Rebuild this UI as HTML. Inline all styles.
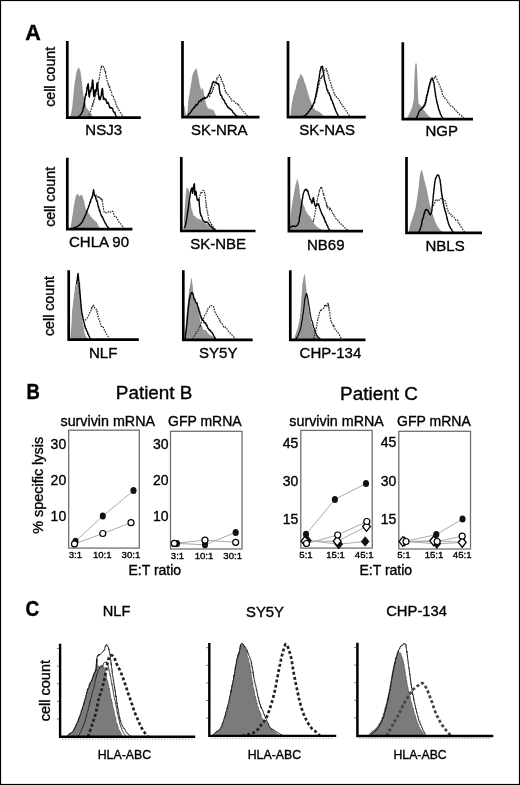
<!DOCTYPE html>
<html><head><meta charset="utf-8"><title>Figure</title>
<style>html,body{margin:0;padding:0;background:#fff;width:520px;height:785px;overflow:hidden}svg{display:block}text{font-family:"Liberation Sans",Arial,sans-serif}</style>
</head><body>
<svg width="520" height="785" viewBox="0 0 520 785" font-family="'Liberation Sans', Arial, sans-serif" fill="#000"><rect x="0.5" y="0.5" width="519" height="784" fill="#fff" stroke="#000" stroke-width="1.2"/><text x="25.2" y="40.4" font-size="21.5" text-anchor="start" font-weight="bold" stroke="#000" stroke-width="0.35">A</text><text x="0" y="0" font-size="14.2" text-anchor="middle" stroke="#000" stroke-width="0.35" transform="translate(55.0 76.8) rotate(-90)">cell count</text><text x="0" y="0" font-size="14.2" text-anchor="middle" stroke="#000" stroke-width="0.35" transform="translate(54.6 196.9) rotate(-90)">cell count</text><text x="0" y="0" font-size="14.2" text-anchor="middle" stroke="#000" stroke-width="0.35" transform="translate(54.4 306.0) rotate(-90)">cell count</text><path d="M70.0 117.0L70.1 116.6L70.3 116.0L70.5 115.3L70.7 114.4L70.9 113.9L71.2 113.1L71.4 112.0L71.6 110.6L71.8 110.0L71.9 109.0L72.0 108.1L72.1 108.5L72.2 107.9L72.3 105.3L72.4 106.0L72.5 104.7L72.6 103.4L72.6 102.3L72.7 102.2L72.8 100.8L72.9 100.4L73.0 99.6L73.1 97.7L73.1 98.2L73.2 97.8L73.3 96.9L73.4 95.4L73.5 93.4L73.5 92.5L73.6 91.9L73.7 92.7L73.8 90.6L73.9 89.9L73.9 90.2L74.0 88.3L74.1 88.1L74.2 86.9L74.3 85.3L74.4 85.5L74.5 85.3L74.6 83.2L74.7 82.6L74.8 82.2L74.9 80.7L75.1 80.9L75.2 80.6L75.3 79.5L75.5 78.4L75.6 78.2L75.8 75.8L75.9 75.7L76.1 74.4L76.2 73.9L76.4 72.0L76.5 72.5L76.7 70.4L76.9 69.9L77.0 70.6L77.6 69.4L78.1 67.8L78.7 67.8L79.0 67.8L79.4 68.5L79.8 70.1L80.1 70.2L80.4 71.2L80.5 72.5L80.7 72.6L80.8 74.3L80.9 75.5L81.0 76.2L81.2 76.4L81.3 77.0L81.4 78.1L81.5 78.1L81.6 80.4L81.7 80.4L81.8 81.2L81.9 81.6L82.0 83.2L82.1 84.3L82.2 84.8L82.2 86.6L82.3 87.1L82.4 87.1L82.5 88.5L82.6 90.1L82.7 90.0L82.8 91.1L82.9 90.9L83.1 92.6L83.2 93.4L83.3 94.1L83.4 94.9L83.5 96.0L83.7 96.6L83.8 97.3L83.9 97.3L84.1 98.9L84.2 100.9L84.3 100.6L84.5 100.7L84.6 101.5L84.8 103.3L85.0 103.1L85.3 104.1L85.7 105.0L86.0 106.5L86.4 108.2L86.8 108.0L87.3 108.8L87.9 109.5L88.4 110.3L89.0 110.9L89.6 112.0L90.2 112.8L90.8 113.4L91.4 114.0L91.9 115.0L92.4 116.0L92.8 116.6L93.1 117.3L93.1 117.7L70.0 117.7Z" fill="#969696" stroke="none"/><path d="M88.5 117.3L88.7 116.7L88.9 116.0L89.2 115.2L89.5 113.9L89.9 112.7L90.2 111.9L90.4 111.1L90.7 110.9L90.9 110.0L91.2 109.1L91.4 108.3L91.7 107.6L92.0 106.0L92.2 105.7L92.5 104.4L92.8 105.0L93.0 102.7L93.3 103.4L93.5 101.3L93.8 101.7L94.0 100.3L94.3 99.6L94.5 99.5L94.8 97.1L95.0 96.5L95.2 97.2L95.4 95.7L95.6 94.1L95.8 94.8L96.0 93.9L96.2 91.5L96.4 91.2L96.6 89.8L96.8 89.2L97.0 89.0L97.2 87.4L97.4 87.5L97.6 85.5L97.8 84.9L97.9 85.3L98.1 83.8L98.3 83.1L98.4 82.7L98.6 81.7L98.7 80.7L98.9 79.2L99.0 79.6L99.2 79.2L99.3 78.4L99.5 76.9L99.6 75.4L99.8 74.5L99.9 74.2L100.1 73.3L100.2 71.4L100.3 70.9L100.5 70.4L100.6 70.0L100.9 69.3L101.2 67.7L101.4 66.1L101.7 67.0L102.0 65.9L102.7 66.0L103.5 66.5L103.8 67.4L104.0 68.1L104.3 69.6L104.6 69.2L104.9 71.0L105.2 71.4L105.4 73.0L105.6 72.6L105.7 73.9L105.9 74.8L106.1 76.2L106.3 76.1L106.5 77.7L106.6 78.0L106.8 78.9L107.0 80.0L107.3 81.8L107.6 81.9L107.9 83.5L108.1 82.8L108.4 85.0L108.7 84.8L109.0 85.3L109.3 87.1L109.5 88.2L109.8 87.4L110.1 88.7L110.4 90.5L110.7 90.5L111.0 91.2L111.3 91.6L111.6 92.5L111.9 94.4L112.2 95.9L112.6 96.7L112.9 96.6L113.3 96.6L113.7 97.9L114.1 99.6L114.5 100.6L114.8 101.0L115.1 101.0L115.4 102.3L115.7 103.0L115.9 104.1L116.2 104.2L116.5 106.1L116.8 106.7L117.3 106.4L117.7 107.4L118.2 109.0L118.6 109.0L119.1 110.5L119.6 110.8L120.0 111.8L120.5 112.6L120.9 113.1L121.4 113.9L121.9 114.6L122.4 115.6L122.9 116.3L123.4 116.8L123.7 117.3" fill="none" stroke="#2a2a2a" stroke-width="1.2" stroke-dasharray="1.6 1.1"/><path d="M77.5 117.3L78.1 116.9L78.9 116.3L79.8 115.8L80.3 114.9L80.8 114.4L81.3 113.8L81.8 112.4L82.2 112.0L82.5 111.6L82.8 111.2L83.0 108.6L83.3 108.2L83.5 106.5L83.7 108.0L83.9 106.8L84.1 103.3L84.2 106.2L84.4 105.2L84.5 103.1L84.6 102.0L84.7 99.3L84.9 97.8L85.0 99.1L85.2 96.3L85.4 96.1L85.6 95.5L85.8 93.9L86.0 94.8L86.2 93.8L86.3 94.7L86.4 92.6L86.5 92.2L86.7 90.7L86.8 90.4L86.9 88.7L87.0 87.1L87.1 89.2L87.2 88.5L87.3 87.4L87.8 84.9L88.2 83.8L88.3 83.9L88.3 84.7L88.4 84.7L88.5 88.4L88.5 87.9L88.6 90.7L88.7 89.9L88.7 93.2L88.8 93.8L88.9 91.3L89.0 92.8L89.0 96.2L89.1 94.9L89.4 97.0L89.8 93.2L90.2 90.3L90.5 91.8L90.7 91.7L91.0 88.9L91.3 87.3L91.6 87.3L91.8 89.0L91.9 87.1L92.1 83.3L92.2 82.6L92.4 81.0L92.5 80.0L92.7 82.6L92.8 80.2L92.9 82.1L92.9 82.1L93.0 81.8L93.0 84.8L93.1 83.3L93.2 86.4L93.2 85.4L93.3 87.7L93.3 88.0L93.4 89.3L93.4 93.2L93.5 93.5L93.5 92.4L93.6 95.5L93.6 93.4L93.7 94.6L94.0 96.6L94.4 94.1L94.8 90.4L95.3 93.4L95.7 89.8L96.2 89.0L96.4 90.3L96.6 87.4L96.7 86.0L96.9 83.9L97.1 83.0L97.2 84.3L97.4 83.0L97.5 84.7L97.6 84.3L97.7 85.4L97.7 88.2L97.8 87.3L97.9 88.7L98.0 90.9L98.1 89.3L98.2 90.3L98.2 94.3L98.3 94.8L98.4 93.4L98.5 93.8L98.8 97.4L99.1 99.1L99.4 96.6L99.7 99.8L100.2 99.4L100.7 97.6L101.2 95.7L101.4 93.7L101.5 92.4L101.6 94.8L101.8 90.7L101.9 91.4L102.0 88.7L102.2 90.4L102.3 89.4L102.4 88.4L102.5 88.5L102.6 91.4L102.7 89.7L102.8 91.3L102.9 93.7L103.0 96.0L103.1 96.2L103.2 95.9L103.3 99.3L103.4 97.2L103.5 97.1L104.3 99.0L105.2 99.8L105.6 98.9L106.1 100.1L106.5 101.7L107.0 103.3L107.8 102.2L108.6 103.7L109.3 106.6L109.8 107.6L110.2 107.1L110.6 108.0L111.0 108.3L111.6 107.7L112.1 108.1L112.7 108.8L113.3 111.6L113.9 111.7L114.5 112.9L114.9 112.2L115.2 114.2L115.6 115.0L116.2 116.0L116.8 116.7L117.3 117.3" fill="none" stroke="#000" stroke-width="1.4" stroke-linejoin="round"/><path d="M67.3 41.0V117.7H140.8" fill="none" stroke="#000" stroke-width="2.7"/><text x="103.7" y="134.9" font-size="15.0" text-anchor="middle" stroke="#000" stroke-width="0.35">NSJ3</text><path d="M182.5 116.7L182.5 116.3L182.5 115.6L182.6 114.9L182.6 114.1L182.6 112.7L182.6 112.0L182.7 111.3L182.7 110.3L182.8 109.0L182.8 107.5L182.9 107.0L182.9 107.4L183.0 105.3L183.7 104.5L184.4 106.6L184.6 106.3L184.7 106.7L184.9 107.9L185.0 109.7L185.2 110.0L185.3 111.1L185.5 112.1L185.8 113.5L186.1 114.7L186.4 115.9L186.7 116.5L187.0 115.9L187.1 115.5L187.1 115.1L187.2 114.7L187.3 113.9L187.3 113.4L187.4 112.3L187.5 111.4L187.5 110.4L187.6 110.2L187.7 109.5L187.7 107.6L187.8 106.6L187.9 105.2L187.9 105.4L188.0 103.8L188.1 102.5L188.2 102.7L188.2 101.7L188.3 100.6L188.4 99.3L188.5 99.4L188.6 98.3L188.8 97.2L188.9 95.8L189.0 96.6L189.2 95.6L189.3 94.5L189.4 94.4L189.6 92.8L189.7 91.5L189.9 90.3L190.0 90.6L190.1 89.6L190.3 88.7L190.4 89.0L190.5 87.9L190.7 85.6L190.8 86.3L190.9 83.6L191.1 84.0L191.2 82.5L191.3 82.5L191.5 82.0L191.6 80.4L191.7 80.0L191.9 77.8L192.0 78.3L192.1 76.5L192.3 76.5L192.4 75.7L192.7 73.9L193.1 74.2L193.5 72.0L193.8 71.7L194.2 70.7L194.5 71.3L195.2 69.6L195.9 68.4L196.5 68.6L196.7 69.3L196.9 70.4L197.1 70.2L197.2 71.0L197.4 73.2L197.6 74.0L197.8 74.3L197.9 75.3L198.1 75.7L198.3 76.9L198.4 78.0L198.6 78.5L198.8 79.4L199.0 80.4L199.2 81.5L199.3 82.9L199.5 84.3L199.7 84.6L199.8 84.9L200.1 85.2L200.3 86.7L200.5 88.5L200.8 88.8L201.0 90.3L201.2 90.8L201.8 88.6L202.5 87.7L202.7 88.0L203.0 89.4L203.2 89.1L203.4 90.5L203.7 92.7L203.9 92.7L204.1 94.7L204.2 94.4L204.4 96.2L204.5 96.3L204.7 96.5L204.8 98.4L205.0 98.5L205.2 100.8L205.4 101.2L205.6 101.7L205.8 103.4L206.0 103.5L206.2 105.2L206.4 105.5L206.7 105.2L206.9 106.1L207.2 107.6L207.8 107.3L208.5 109.1L209.2 108.0L210.0 109.3L210.8 109.4L211.7 109.3L212.6 109.7L213.3 110.1L213.8 110.5L214.2 111.2L214.6 112.0L214.9 113.3L215.3 114.2L215.8 114.8L216.4 115.7L216.9 116.2L217.3 116.7L217.3 117.1L182.5 117.1Z" fill="#969696" stroke="none"/><path d="M209.3 96.0L209.6 96.4L210.0 94.4L210.5 93.6L211.0 94.6L211.5 92.3L212.0 91.3L212.3 91.6L212.6 90.4L212.9 90.6L213.2 88.6L213.4 89.1L213.7 87.1L214.0 86.8L214.3 86.6L214.6 85.3L214.9 85.0L215.2 83.7L215.5 81.7L215.8 82.4L216.1 81.0L216.4 79.7L216.7 78.7L217.0 79.2L217.3 78.1L217.9 77.6L218.4 76.2L218.9 75.9L219.4 75.1L219.7 75.7L220.1 76.3L220.4 76.6L220.7 78.9L221.1 78.8L221.4 80.5L221.8 81.6L222.2 81.8L222.6 81.6L223.0 83.6L223.4 84.3L223.6 84.1L223.8 84.6L224.1 86.3L224.3 86.3L224.5 88.8L224.7 88.9L225.0 89.7L225.2 90.2L225.4 91.3L225.9 92.8L226.4 92.4L226.9 93.1L227.4 94.1L227.9 94.4L228.5 95.7L229.0 96.3L229.5 96.9L230.0 98.1L230.5 98.7L231.0 98.6L231.5 100.9L232.5 100.3L233.5 100.9L234.1 101.3L234.8 102.7L235.6 103.3L236.2 103.0L236.9 103.5L237.6 103.5L238.2 105.7L238.7 105.1L239.2 106.5L239.7 107.0L240.2 107.8L240.7 108.4L241.2 108.8L241.8 109.3L242.3 110.4L242.9 111.3L243.4 111.7L244.0 112.0L244.5 112.9L245.1 113.2L245.6 114.0L246.3 114.9L247.1 115.6L247.8 116.2L248.3 116.7" fill="none" stroke="#2a2a2a" stroke-width="1.2" stroke-dasharray="1.6 1.1"/><path d="M186.4 116.7L186.8 116.2L187.4 115.7L188.2 114.9L189.0 114.0L189.4 113.3L189.9 113.1L190.4 112.5L191.0 111.7L191.5 111.0L192.0 110.0L192.6 109.1L193.1 108.8L193.6 108.5L194.1 107.1L194.6 107.5L195.2 106.0L195.7 105.3L196.2 104.4L196.7 105.5L197.2 104.4L197.8 104.0L198.4 102.9L199.0 101.3L199.5 101.2L200.1 101.0L200.7 99.8L201.2 100.8L202.1 99.1L203.0 98.2L203.8 99.0L204.6 97.3L205.5 98.5L206.4 97.4L207.2 97.1L207.7 96.1L208.1 95.7L208.5 94.3L208.9 93.1L209.3 93.7L209.6 91.8L209.9 91.9L210.2 90.0L210.4 90.5L210.7 89.4L211.0 88.3L211.3 87.5L211.6 86.2L212.0 85.5L212.3 83.4L212.6 83.2L213.0 83.1L213.3 81.5L214.3 82.3L215.3 82.7L216.0 82.4L216.7 83.2L217.3 83.9L218.0 83.4L218.7 84.9L218.8 84.3L218.9 84.3L219.0 85.2L219.2 87.2L219.3 88.7L219.4 88.7L219.5 89.7L219.6 90.8L219.7 92.0L219.9 91.8L220.0 93.2L220.4 94.2L220.7 95.2L221.2 95.1L221.6 95.7L222.0 96.7L222.4 98.6L222.8 98.4L223.2 99.6L223.6 99.9L224.0 100.3L224.5 101.0L225.1 103.1L225.6 103.8L226.1 103.8L226.6 105.1L227.1 105.9L227.6 107.0L228.1 107.7L228.7 107.4L229.4 108.6L230.1 109.0L230.8 109.1L231.2 110.0L231.7 110.2L232.2 110.9L232.6 111.5L233.1 112.7L233.5 112.8L234.2 113.5L234.8 114.5L235.5 115.1L236.2 115.5L237.2 116.1L238.2 116.4L238.9 116.7" fill="none" stroke="#000" stroke-width="1.4" stroke-linejoin="round"/><path d="M182.5 41.0V117.1H259.5" fill="none" stroke="#000" stroke-width="2.7"/><text x="219.3" y="134.6" font-size="15.0" text-anchor="middle" stroke="#000" stroke-width="0.35">SK-NRA</text><path d="M290.4 116.7L290.4 116.2L290.5 115.6L290.6 114.7L290.6 114.2L290.7 113.1L290.8 112.2L290.9 111.3L291.0 110.6L291.1 110.1L291.2 108.4L291.3 108.3L291.4 107.4L291.5 105.1L291.6 103.9L291.7 103.3L291.9 103.7L292.0 102.3L292.2 102.1L292.4 101.3L292.6 99.9L292.8 98.8L292.9 97.1L293.1 96.3L293.3 97.1L293.5 96.1L293.7 95.5L293.9 94.3L294.1 93.7L294.4 92.8L294.6 92.6L294.8 90.3L295.0 90.3L295.2 89.2L295.5 89.5L295.7 88.8L295.9 86.7L296.1 85.6L296.3 85.0L296.5 84.3L296.8 84.4L297.0 82.8L297.2 82.6L297.4 81.0L297.6 80.7L297.8 79.4L298.2 79.2L298.6 78.0L299.1 78.0L299.4 77.5L299.8 76.0L300.4 73.6L301.1 74.9L301.5 75.3L301.9 75.0L302.3 75.9L302.8 77.8L303.2 77.5L303.5 78.3L303.8 80.0L304.1 80.8L304.3 81.7L304.6 82.9L304.9 83.2L305.2 83.8L305.5 84.3L305.8 85.1L306.1 86.3L306.3 87.2L306.6 88.7L306.9 89.3L307.2 90.0L307.4 90.5L307.6 91.8L307.9 92.1L308.1 93.7L308.3 94.2L308.5 95.1L308.8 95.2L309.0 96.3L309.2 97.4L309.5 98.8L309.8 98.9L310.1 99.3L310.3 100.9L310.6 100.6L310.9 101.9L311.2 102.1L311.5 104.0L311.8 104.4L312.2 105.5L312.5 107.1L312.8 107.6L313.2 107.3L313.8 108.6L314.5 108.5L315.2 110.0L315.9 110.0L316.7 110.9L317.6 110.8L318.5 111.8L319.3 111.7L320.0 112.8L320.7 112.9L321.3 113.2L322.0 114.2L322.7 114.8L323.5 115.4L324.2 116.2L324.7 116.7L324.7 117.2L290.4 117.2Z" fill="#969696" stroke="none"/><path d="M313.9 104.0L314.0 102.8L314.2 102.4L314.4 101.8L314.7 102.1L314.9 100.5L315.2 100.0L315.5 97.9L315.8 97.7L316.0 97.4L316.3 95.9L316.5 95.8L316.7 94.9L316.9 93.1L317.1 91.6L317.3 92.1L317.4 90.1L317.6 89.1L317.8 89.5L318.0 88.9L318.1 88.1L318.3 87.6L318.5 85.5L318.7 84.4L319.0 83.6L319.2 84.2L319.4 81.8L319.6 81.1L319.9 80.1L320.1 79.4L320.3 78.8L320.5 78.7L320.9 77.4L321.2 77.0L321.6 77.5L322.0 75.4L322.4 75.8L322.8 74.9L323.2 73.7L323.6 72.9L324.0 72.5L324.5 71.2L325.0 69.6L325.5 69.0L326.0 68.5L326.4 69.1L326.7 70.9L327.1 70.8L327.4 71.2L327.6 72.7L327.8 74.1L328.0 74.3L328.3 75.6L328.5 75.4L328.7 76.2L328.9 78.1L329.1 77.9L329.4 79.1L329.6 80.1L329.8 80.6L330.1 81.2L330.4 81.9L330.7 84.4L331.1 84.8L331.4 86.1L331.8 86.1L332.1 87.8L332.4 88.5L332.7 88.9L333.0 89.7L333.2 90.6L333.5 91.0L333.8 92.1L334.1 93.4L334.6 93.4L335.1 95.3L335.6 95.3L336.1 96.2L336.6 97.3L337.1 97.8L337.6 97.6L338.1 98.5L338.6 98.9L339.2 99.6L339.7 102.1L340.2 102.2L340.7 103.6L341.2 104.0L341.7 103.9L342.2 105.8L342.7 106.5L343.2 106.4L343.7 106.6L344.2 107.7L344.7 108.3L345.2 109.3L345.7 109.8L346.2 111.2L346.7 112.1L347.2 112.3L347.7 113.4L348.2 114.0L348.8 114.8L349.4 115.6L349.9 116.2L350.3 116.7" fill="none" stroke="#2a2a2a" stroke-width="1.2" stroke-dasharray="1.6 1.1"/><path d="M301.8 116.7L302.4 116.5L303.1 116.2L304.1 115.9L305.0 115.6L305.8 114.9L306.4 114.3L307.0 113.7L307.6 113.3L308.1 112.2L308.7 111.9L309.2 111.2L309.7 110.0L310.2 109.7L310.6 108.9L311.1 108.2L311.5 108.4L311.9 106.4L312.3 105.5L312.8 106.4L313.1 104.7L313.5 103.5L313.9 102.7L314.1 102.1L314.3 102.5L314.5 100.5L314.7 99.7L314.9 99.6L315.1 98.7L315.3 98.6L315.5 97.5L315.7 95.7L315.9 94.5L316.1 94.9L316.2 94.4L316.4 91.8L316.5 92.3L316.7 91.7L316.9 90.5L317.0 88.8L317.2 89.0L317.4 88.0L317.5 86.1L317.7 86.0L317.8 84.4L318.0 83.2L318.1 82.9L318.3 82.1L318.4 81.4L318.6 81.0L318.7 80.4L318.8 79.8L319.0 78.9L319.1 78.1L319.3 76.9L319.4 75.2L319.5 74.1L319.6 74.2L319.8 73.3L319.9 72.9L320.0 71.3L320.3 70.2L320.5 70.4L320.7 69.0L320.9 68.5L321.1 66.8L321.3 66.8L321.8 66.6L322.3 66.3L322.4 67.4L322.6 66.6L322.7 67.9L322.8 69.5L323.0 69.8L323.1 71.5L323.3 72.1L323.4 72.0L323.5 72.7L323.7 75.1L323.8 74.4L323.9 75.3L324.1 76.4L324.2 77.9L324.4 79.0L324.5 79.1L324.7 80.0L324.9 81.3L325.1 81.2L325.3 82.3L325.5 83.5L325.7 84.4L325.9 84.2L326.1 85.1L326.3 85.9L326.5 87.7L326.7 88.3L327.0 89.9L327.4 90.4L327.7 90.2L328.0 91.9L328.4 93.1L328.7 92.7L329.0 93.0L329.4 94.4L329.7 95.1L330.0 95.8L330.4 96.3L330.7 97.3L331.0 99.5L331.4 98.9L331.8 100.7L332.1 100.8L332.5 101.6L332.8 103.6L333.1 103.5L333.5 104.1L333.8 105.4L334.1 106.7L334.5 107.2L334.8 108.5L335.1 108.7L335.5 109.7L335.8 110.8L336.1 111.4L336.5 112.4L336.8 113.0L337.2 113.7L337.7 114.6L338.1 115.6L338.5 116.3L338.8 116.7" fill="none" stroke="#000" stroke-width="1.4" stroke-linejoin="round"/><path d="M288.0 41.0V117.2H365.8" fill="none" stroke="#000" stroke-width="2.7"/><text x="327.1" y="134.6" font-size="15.0" text-anchor="middle" stroke="#000" stroke-width="0.35">SK-NAS</text><path d="M406.4 119.2L406.6 118.7L407.0 118.2L407.4 117.2L407.8 116.5L408.2 116.0L408.7 114.9L409.1 113.7L409.4 113.2L409.8 113.0L410.2 111.8L410.5 110.5L410.9 111.0L411.2 109.1L411.5 109.1L411.8 108.2L412.0 107.2L412.2 107.5L412.4 105.2L412.6 105.3L412.8 103.6L413.0 104.5L413.2 102.0L413.3 101.9L413.5 101.6L413.6 100.8L413.7 98.5L413.7 99.4L413.8 98.6L413.8 96.7L413.9 96.8L413.9 95.0L413.9 94.0L413.9 93.2L414.0 92.7L414.0 92.9L414.0 91.3L414.0 91.5L414.0 90.5L414.1 88.3L414.1 87.9L414.1 86.3L414.2 86.6L414.2 85.8L414.2 84.9L414.3 83.1L414.3 83.2L414.3 81.4L414.3 82.0L414.4 80.4L414.4 78.8L414.4 79.8L414.5 78.9L414.5 76.9L414.5 77.3L414.6 75.3L414.6 75.1L414.7 74.2L414.7 73.6L414.8 71.2L414.8 70.3L414.9 69.6L414.9 69.3L415.0 69.3L415.0 68.4L415.1 66.5L415.1 67.1L415.2 65.4L415.4 63.6L415.6 63.4L415.8 63.6L416.0 63.3L416.2 62.6L416.4 64.1L416.6 64.0L416.8 65.3L416.9 67.5L416.9 67.6L417.0 67.3L417.0 68.4L417.0 70.0L417.1 69.4L417.1 70.6L417.2 72.7L417.2 72.5L417.3 73.8L417.3 74.9L417.3 75.7L417.4 76.1L417.4 76.7L417.4 78.6L417.5 79.3L417.5 80.5L417.5 79.5L417.6 80.6L417.6 82.9L417.6 82.6L417.6 84.5L417.7 84.3L417.7 85.4L417.7 86.7L417.8 87.1L417.8 88.1L417.8 87.9L417.9 90.4L417.9 90.8L417.9 91.0L418.0 92.3L418.0 93.5L418.0 95.0L418.1 94.0L418.1 96.7L418.1 96.8L418.2 96.5L418.2 97.9L418.2 99.3L418.3 98.7L418.3 100.2L418.4 101.5L418.5 102.4L418.6 102.0L418.7 102.5L418.9 104.9L419.3 104.1L419.9 104.8L420.5 106.1L421.1 105.6L421.8 107.6L422.5 108.5L422.9 108.3L423.3 109.4L423.8 109.9L424.3 110.9L424.7 110.9L425.2 111.4L425.7 112.2L426.2 113.6L426.7 114.2L427.3 114.1L427.9 115.2L428.4 115.4L429.1 116.3L429.8 116.9L430.5 117.6L431.1 118.3L431.6 118.8L432.0 119.2L432.0 119.2L406.4 119.2Z" fill="#969696" stroke="none"/><path d="M422.5 108.0L422.8 107.8L423.2 106.0L423.7 105.7L424.2 104.6L424.6 104.4L424.8 103.7L425.0 103.4L425.2 101.2L425.4 100.9L425.6 99.4L425.8 98.9L426.0 98.5L426.2 96.8L426.4 96.3L426.6 96.3L426.8 95.3L427.0 93.9L427.2 93.8L427.4 93.4L427.6 91.1L427.8 91.8L428.0 90.8L428.2 89.3L428.4 88.2L428.6 88.8L428.8 86.9L429.0 85.6L429.3 84.7L429.5 85.1L429.7 83.7L430.0 83.2L430.2 82.3L430.4 81.2L430.7 81.4L430.9 79.8L431.7 79.3L432.5 79.7L433.3 79.2L434.0 78.8L434.6 77.4L435.3 77.4L435.7 76.6L436.1 77.7L436.5 78.7L436.9 79.3L437.3 80.5L437.7 81.1L438.1 82.2L438.6 83.6L439.0 83.9L439.4 84.8L439.7 85.2L440.1 86.1L440.4 88.2L440.7 88.5L441.1 89.3L441.4 89.4L441.7 91.2L442.0 91.1L442.3 92.4L442.5 94.5L442.8 94.7L443.1 95.4L443.4 96.3L443.9 97.6L444.4 98.2L444.9 97.9L445.4 98.2L446.1 99.4L446.7 99.9L447.4 100.5L447.9 102.5L448.4 103.2L449.0 103.0L449.5 104.3L450.2 104.6L450.8 106.1L451.5 105.9L452.1 106.2L452.8 106.8L453.5 108.1L454.0 108.2L454.5 109.3L455.1 110.3L455.6 110.3L456.2 110.7L456.7 112.2L457.3 112.3L457.8 112.5L458.4 113.1L458.9 113.7L459.6 114.6L460.2 115.2L460.9 115.4L461.6 115.8L462.3 116.6L463.0 117.5L463.8 118.1L464.4 118.8L464.9 119.2" fill="none" stroke="#2a2a2a" stroke-width="1.2" stroke-dasharray="1.6 1.1"/><path d="M415.8 119.2L416.1 118.6L416.5 117.8L416.9 116.8L417.4 116.2L417.8 115.0L418.1 114.3L418.4 113.3L418.8 112.2L419.1 111.7L419.4 110.8L419.8 110.4L420.4 109.6L421.1 109.5L421.8 108.5L422.5 107.4L423.0 106.9L423.4 107.4L423.9 105.8L424.4 106.1L424.8 105.2L425.2 103.2L425.4 103.9L425.6 101.8L425.8 102.6L426.0 101.7L426.2 99.7L426.3 99.8L426.5 98.9L426.7 96.9L426.8 97.0L427.0 95.2L427.2 95.7L427.4 94.5L427.6 94.2L427.8 91.7L428.0 91.3L428.2 91.0L428.4 90.1L428.6 88.5L428.8 88.9L428.9 88.1L429.1 86.3L429.3 85.4L429.6 85.3L429.8 83.8L430.0 83.3L430.3 82.1L430.5 81.1L430.7 79.8L430.9 79.3L431.6 78.3L432.2 78.4L432.5 78.2L432.8 79.4L433.0 79.9L433.3 81.5L433.6 82.3L433.7 82.3L433.9 82.7L434.0 83.3L434.1 84.0L434.3 86.3L434.4 87.2L434.5 87.9L434.6 87.6L434.8 89.4L434.9 89.3L435.0 91.5L435.1 91.9L435.3 92.9L435.4 93.5L435.5 94.0L435.6 95.6L435.8 96.7L435.9 96.2L436.0 97.4L436.2 98.7L436.3 99.3L436.5 99.7L436.7 100.6L436.8 102.3L437.0 101.8L437.2 102.5L437.4 104.1L437.6 104.1L437.8 105.9L438.0 105.7L438.2 107.6L438.4 107.4L438.6 109.1L438.9 109.6L439.1 110.4L439.3 110.5L439.5 111.3L439.8 111.9L440.0 112.7L440.4 114.2L440.8 114.6L441.2 115.5L441.6 116.4L442.0 116.9L442.8 117.9L443.6 118.7L444.1 119.2" fill="none" stroke="#000" stroke-width="1.4" stroke-linejoin="round"/><path d="M402.8 42.3V119.2H473.0" fill="none" stroke="#000" stroke-width="2.7"/><text x="441.8" y="135.9" font-size="15.0" text-anchor="middle" stroke="#000" stroke-width="0.35">NGP</text><path d="M70.3 229.2L70.4 228.7L70.5 228.0L70.6 227.4L70.8 226.4L70.9 225.6L71.1 225.0L71.2 223.4L71.4 222.6L71.5 222.2L71.6 220.6L71.8 219.7L71.9 219.9L72.0 219.3L72.1 217.3L72.3 216.1L72.4 216.8L72.5 214.7L72.6 214.3L72.8 213.4L72.9 212.6L73.0 212.3L73.1 211.5L73.2 210.1L73.4 209.5L73.5 208.6L73.6 207.4L73.8 206.0L73.9 204.7L74.1 203.9L74.2 204.4L74.4 203.1L74.5 201.2L74.7 201.9L74.9 199.8L75.1 199.8L75.3 198.6L75.5 197.5L75.8 196.3L76.1 196.0L76.5 194.8L77.2 194.2L78.0 193.9L78.5 194.8L79.0 196.0L79.5 196.3L80.0 196.6L80.5 195.0L81.1 195.2L81.8 195.0L82.1 195.6L82.4 195.0L82.7 197.0L83.0 198.0L83.2 197.9L83.5 199.3L83.7 200.5L84.0 200.4L84.3 201.3L84.5 203.4L84.7 203.8L84.9 205.9L85.1 206.5L85.2 207.3L85.4 208.0L85.5 207.6L85.7 209.3L86.1 208.9L86.5 209.6L87.0 210.8L87.5 211.2L88.0 211.5L88.5 213.3L89.0 214.9L89.5 213.8L90.0 214.8L90.5 216.7L91.0 216.6L91.5 217.1L92.0 217.6L92.5 219.0L93.0 218.9L93.7 219.6L94.4 220.2L95.0 221.4L95.9 220.9L96.7 222.2L97.0 223.0L97.4 223.2L97.8 224.3L98.1 225.2L98.5 226.1L99.1 226.9L99.7 227.8L100.2 228.6L100.6 229.2L100.6 229.1L70.3 229.1Z" fill="#969696" stroke="none"/><path d="M94.5 195.0L95.2 196.3L96.0 195.2L96.5 197.0L97.0 197.0L97.7 197.2L98.5 195.8L99.1 197.2L99.8 196.6L100.4 198.9L100.9 198.4L101.4 198.5L101.8 199.7L102.0 200.9L102.2 200.6L102.3 202.1L102.5 202.3L102.6 203.4L102.8 204.4L103.0 205.4L103.1 206.4L103.3 208.2L103.5 208.4L103.6 210.0L103.8 210.7L104.2 212.0L104.7 212.8L105.4 212.5L106.2 212.8L107.1 213.0L108.1 212.1L109.0 211.4L110.0 212.0L111.0 211.7L111.9 210.9L112.7 211.3L113.4 212.4L113.7 214.3L114.0 215.7L114.3 216.3L115.0 216.4L115.8 216.2L116.3 216.7L116.7 218.5L117.2 219.0L117.6 219.7L118.0 220.1L118.3 220.9L118.7 221.7L119.4 222.2L120.1 223.1L120.6 223.4L121.0 224.3L121.5 225.0L122.0 225.7L122.5 226.4L123.0 227.1L123.5 227.7L124.0 228.7L124.4 229.2" fill="none" stroke="#2a2a2a" stroke-width="1.2" stroke-dasharray="1.6 1.1"/><path d="M71.0 229.2L71.6 229.0L72.4 228.6L73.3 228.2L74.2 227.9L75.0 227.4L75.8 227.1L76.6 226.9L77.3 226.3L78.0 226.2L78.7 225.7L79.4 225.1L80.0 224.6L80.5 224.0L81.0 223.3L81.5 223.2L82.0 221.9L82.4 221.9L82.8 221.1L83.3 219.2L83.7 218.8L84.0 218.5L84.4 218.2L84.6 216.4L85.0 216.2L85.3 215.1L85.6 215.1L85.9 214.5L86.3 213.3L86.7 211.4L87.0 211.5L87.3 210.1L87.6 209.9L87.9 208.4L88.1 208.3L88.4 207.5L88.7 206.4L89.0 205.6L89.3 204.7L89.7 203.4L90.0 201.8L90.4 202.4L90.7 200.7L91.0 199.1L91.3 199.0L91.7 198.2L92.0 197.0L92.3 197.6L92.5 195.3L92.7 195.9L92.8 194.4L93.0 192.9L93.1 192.4L93.2 191.9L93.5 189.8L93.8 190.5L93.9 190.7L94.0 192.1L94.1 192.8L94.2 193.7L94.4 194.9L94.6 195.5L94.9 195.6L95.2 196.1L95.6 197.0L95.8 198.3L96.1 199.2L96.4 199.9L96.6 200.8L96.9 200.3L97.2 201.9L97.5 202.3L97.7 203.9L97.9 204.7L98.1 205.4L98.3 206.8L98.6 206.5L98.8 208.2L99.0 208.7L99.2 208.8L99.4 210.9L99.7 210.2L100.0 211.8L100.3 212.8L100.7 213.7L101.0 215.1L101.3 215.1L101.7 216.6L102.1 216.3L102.5 217.4L102.9 217.6L103.3 219.2L103.7 219.7L104.1 221.0L104.4 221.0L104.8 222.2L105.2 223.4L105.7 223.4L106.2 224.7L106.6 225.4L107.1 226.1L107.8 227.0L108.4 227.8L109.0 228.5L109.6 229.0L110.0 229.2" fill="none" stroke="#000" stroke-width="1.4" stroke-linejoin="round"/><path d="M67.3 157.8V229.1H132.4" fill="none" stroke="#000" stroke-width="2.7"/><text x="99.0" y="246.9" font-size="15.0" text-anchor="middle" stroke="#000" stroke-width="0.35">CHLA 90</text><path d="M182.5 230.8L182.9 230.8L183.4 229.0L183.5 228.4L183.5 228.1L183.6 227.3L183.6 226.4L183.7 226.2L183.7 225.3L183.8 224.6L183.8 223.5L183.9 221.9L183.9 221.3L184.0 220.1L184.0 220.1L184.1 217.6L184.1 218.3L184.2 216.1L184.2 215.5L184.3 215.3L184.4 214.5L184.4 213.4L184.5 212.6L184.5 211.8L184.6 211.0L184.6 209.1L184.7 208.6L184.7 207.2L184.8 207.4L184.9 206.0L184.9 205.0L185.0 204.2L185.0 204.7L185.1 202.3L185.1 203.0L185.2 202.3L185.2 200.1L185.3 200.7L185.4 198.4L185.5 198.2L185.6 196.2L185.6 195.7L185.7 195.1L185.8 194.0L185.9 194.0L186.0 192.9L186.1 190.9L186.1 191.3L186.2 189.7L186.3 189.3L186.6 188.2L186.9 187.4L187.2 187.6L187.9 188.6L188.7 189.6L188.8 189.7L189.0 191.0L189.1 190.6L189.2 192.6L189.3 194.1L189.4 195.0L189.5 195.1L189.6 196.2L189.7 196.7L189.8 197.7L190.0 199.7L190.1 198.9L190.2 201.2L190.4 200.8L190.5 202.3L190.6 203.1L190.8 203.1L190.9 204.8L191.0 204.7L191.2 207.4L191.3 208.1L191.5 208.2L191.7 209.4L191.8 210.1L192.0 209.9L192.2 210.4L192.5 211.7L192.8 212.7L193.2 213.7L193.5 214.9L194.0 215.9L194.4 216.1L195.0 215.6L195.6 216.8L196.2 217.8L197.0 218.8L197.7 217.4L198.5 219.2L199.3 219.1L200.2 219.2L201.0 220.7L201.7 220.1L202.3 220.5L202.9 221.5L203.6 222.2L204.3 222.0L205.0 223.0L205.7 223.1L206.4 224.2L207.1 223.8L207.8 225.1L208.5 225.1L209.3 225.3L210.0 225.8L210.7 226.6L211.5 226.9L212.2 227.1L213.0 227.6L213.7 228.0L214.4 228.6L215.0 229.1L216.0 229.5L216.8 230.1L217.5 230.5L218.0 230.8L218.0 231.0L182.5 231.0Z" fill="#969696" stroke="none"/><path d="M198.8 200.0L198.9 200.2L199.1 198.1L199.3 198.6L199.5 196.3L199.7 195.9L200.0 195.6L200.4 193.6L200.7 193.0L201.1 191.8L201.6 192.8L202.3 192.2L203.1 190.4L203.8 190.5L204.5 192.0L204.7 192.6L204.8 193.7L204.9 193.8L205.1 195.1L205.2 195.4L205.3 196.2L205.4 196.8L205.5 198.5L205.6 199.4L205.7 200.5L205.8 202.0L205.9 201.8L206.0 202.7L206.1 203.8L206.2 205.6L206.3 205.4L206.4 206.2L206.6 207.4L206.7 208.7L206.8 208.8L206.9 209.4L207.1 211.4L207.2 212.0L207.4 212.8L207.6 212.6L207.7 213.8L207.9 214.3L208.1 215.6L208.3 217.5L208.4 218.4L208.6 218.9L208.8 218.8L209.1 220.3L209.5 221.8L209.8 221.8L210.3 222.4L210.8 223.3L211.2 223.4L211.6 224.4L212.0 225.1L212.5 226.2L213.0 226.7L213.4 227.1L214.0 227.7L214.5 228.6L215.1 229.0L215.9 229.8L216.5 230.4L217.0 230.8" fill="none" stroke="#2a2a2a" stroke-width="1.2" stroke-dasharray="1.6 1.1"/><path d="M184.3 228.0L184.5 227.5L184.8 227.0L185.1 226.4L185.5 225.0L185.8 223.8L185.9 223.6L186.1 222.7L186.2 221.7L186.3 221.0L186.4 220.0L186.6 218.9L186.7 218.8L186.8 218.4L186.9 217.1L187.1 216.1L187.2 214.7L187.3 214.1L187.4 212.8L187.6 213.0L187.7 211.4L187.8 210.5L187.9 210.9L188.1 208.9L188.2 209.2L188.3 207.7L188.5 207.1L188.6 206.1L188.7 204.4L188.8 204.5L188.9 202.8L189.1 202.2L189.2 200.8L189.3 199.8L189.4 199.4L189.6 197.9L189.7 197.8L189.8 197.8L189.9 197.3L190.0 195.5L190.1 194.3L190.3 193.6L190.5 192.1L190.6 191.5L190.8 191.5L190.9 190.8L191.1 189.2L191.6 188.4L192.0 187.9L192.1 188.4L192.2 188.9L192.2 190.6L192.3 191.2L192.4 193.1L192.5 193.3L192.6 192.9L192.8 191.8L192.9 191.9L193.1 189.7L193.2 188.3L193.4 187.6L193.5 187.7L193.7 185.0L194.0 184.6L194.2 184.1L194.4 184.1L194.4 183.8L194.5 184.4L194.5 185.9L194.6 186.5L194.6 187.6L194.6 187.6L194.6 189.4L194.7 190.7L194.7 190.9L194.7 191.8L194.8 193.8L194.8 194.1L194.8 194.4L194.9 195.0L195.2 194.3L195.6 192.4L195.9 191.3L196.0 192.2L196.2 192.5L196.3 194.8L196.4 196.0L196.5 196.4L196.7 196.5L196.8 198.2L197.1 198.8L197.5 200.2L197.8 200.3L198.3 200.5L198.8 199.2L199.0 200.2L199.1 201.2L199.2 202.9L199.3 204.5L199.4 204.7L199.4 205.9L199.5 206.7L199.6 207.2L199.7 207.2L199.8 208.1L199.8 209.1L199.9 210.7L200.0 211.2L200.1 213.1L200.2 212.5L200.5 213.5L200.8 215.3L201.2 216.2L201.5 216.0L201.9 217.3L202.2 218.2L202.6 219.6L203.0 220.2L203.5 221.0L204.0 221.1L205.0 222.2L206.0 222.0L207.0 222.2L207.9 222.6L208.5 224.0L209.2 224.4L209.8 225.1L210.4 226.0L211.1 226.4L211.7 226.9L212.4 227.8L213.0 228.5L213.7 228.9L214.4 229.8L215.1 230.3L215.6 230.8" fill="none" stroke="#000" stroke-width="1.4" stroke-linejoin="round"/><path d="M181.3 157.0V231.0H255.5" fill="none" stroke="#000" stroke-width="2.7"/><text x="218.1" y="248.8" font-size="15.0" text-anchor="middle" stroke="#000" stroke-width="0.35">SK-NBE</text><path d="M289.5 230.5L289.5 230.1L289.6 229.4L289.7 228.8L289.8 227.8L289.9 227.4L290.0 225.6L290.1 224.7L290.2 224.0L290.2 223.5L290.3 222.4L290.3 221.5L290.4 220.7L290.5 219.3L290.5 218.8L290.6 217.9L290.7 218.0L290.7 216.4L290.8 214.8L290.9 213.7L291.0 213.4L291.1 213.8L291.1 211.0L291.2 211.0L291.3 210.8L291.4 208.7L291.5 209.2L291.6 208.5L291.7 207.5L291.9 205.2L292.0 205.9L292.1 203.7L292.3 204.0L292.4 203.1L292.5 201.7L292.7 201.4L292.8 200.6L292.9 199.9L293.0 198.1L293.2 198.7L293.3 197.2L293.5 195.8L293.6 194.4L293.8 194.9L293.9 194.3L294.1 193.1L294.2 191.8L294.4 191.1L294.5 189.7L294.7 188.4L294.8 189.2L295.0 188.2L295.1 187.1L295.3 186.6L295.6 184.2L295.8 183.2L296.0 182.8L296.2 183.4L296.4 181.7L297.0 179.6L297.6 179.4L297.8 179.6L298.0 181.8L298.2 182.7L298.5 181.8L298.7 184.1L298.9 184.4L299.0 186.4L299.1 186.0L299.2 187.8L299.3 187.3L299.4 189.2L299.5 189.9L299.6 190.2L299.7 192.7L299.8 192.7L299.9 194.0L300.0 193.7L300.1 194.6L300.3 196.9L300.5 197.1L300.7 198.7L300.9 198.9L301.1 200.2L301.4 199.7L301.7 200.9L302.0 202.5L302.3 201.7L302.7 203.5L303.0 203.3L303.3 204.5L303.7 205.7L304.0 206.2L304.4 206.6L304.7 207.4L305.1 209.3L305.5 210.6L305.8 210.9L306.2 211.1L306.6 212.7L307.0 212.1L307.6 214.3L308.2 214.6L308.9 215.2L309.5 216.2L310.0 216.0L310.5 217.5L311.0 218.4L311.5 219.1L312.0 220.0L312.5 220.6L313.0 221.8L313.5 222.3L314.0 223.8L314.5 223.7L315.1 225.0L315.7 225.4L316.3 226.3L317.0 226.7L317.6 227.0L318.4 227.9L319.3 228.3L320.1 228.4L320.8 228.9L321.9 229.8L322.6 230.5L322.6 231.2L289.5 231.2Z" fill="#969696" stroke="none"/><path d="M313.3 222.0L313.4 220.9L313.5 221.0L313.7 220.8L313.9 218.8L314.1 218.2L314.3 216.8L314.5 216.4L314.6 215.6L314.8 214.7L314.9 214.6L315.0 213.2L315.2 211.7L315.3 210.9L315.5 210.5L315.6 209.7L315.7 208.1L315.9 208.3L316.0 206.9L316.2 206.5L316.3 204.4L316.5 203.9L316.6 202.5L316.8 202.4L317.0 201.3L317.1 200.6L317.3 199.5L317.5 199.7L317.7 198.4L317.9 197.0L318.1 196.3L318.3 194.8L318.5 195.3L318.7 194.5L318.9 193.1L319.2 191.3L319.4 191.9L319.6 189.7L319.9 188.8L320.1 188.9L320.8 187.8L321.4 188.6L321.7 187.8L322.0 188.3L322.3 189.9L322.6 190.2L322.8 192.0L323.0 192.5L323.2 194.1L323.5 195.1L323.7 194.7L323.9 196.5L324.1 196.9L324.4 198.5L324.6 197.7L324.9 199.1L325.1 200.9L325.4 200.0L325.6 201.3L325.9 202.1L326.1 203.0L326.4 204.9L326.7 204.3L327.0 206.3L327.3 206.0L327.6 207.7L328.2 207.0L328.9 207.3L329.5 209.4L330.1 208.1L330.8 209.6L331.4 209.5L331.7 210.8L332.0 211.0L332.3 212.4L332.6 213.3L333.0 214.2L333.5 213.8L334.0 215.8L334.5 215.5L335.0 216.9L335.4 218.1L335.9 218.8L336.4 219.1L337.0 219.7L337.7 219.8L338.3 221.6L338.9 221.8L339.5 222.7L340.1 223.6L340.7 223.9L341.4 224.1L342.0 225.0L342.6 225.4L343.2 226.2L343.9 227.2L344.5 227.6L345.1 227.9L345.8 228.5L346.4 229.0L347.1 229.7L347.8 230.2L348.3 230.5" fill="none" stroke="#2a2a2a" stroke-width="1.2" stroke-dasharray="1.6 1.1"/><path d="M290.1 227.5L290.7 227.1L291.5 226.8L292.4 225.9L293.3 226.4L294.4 226.2L295.5 226.5L296.4 225.8L297.1 225.4L297.8 224.6L298.3 223.7L298.5 222.8L298.7 222.9L298.9 221.6L299.0 221.4L299.2 220.4L299.3 218.7L299.5 217.4L299.6 217.0L299.8 215.7L299.9 216.0L300.0 214.4L300.2 213.5L300.3 214.0L300.4 212.3L300.5 212.4L300.7 211.7L300.8 210.3L300.9 208.7L301.0 207.8L301.2 207.1L301.3 207.2L301.4 206.0L301.5 204.8L301.6 203.5L301.8 203.3L301.9 202.6L302.0 201.2L302.1 200.7L302.3 200.0L302.4 199.3L302.5 198.5L302.7 197.8L302.8 197.5L302.9 195.7L303.0 194.6L303.2 194.2L303.3 193.5L303.6 193.0L303.9 192.1L304.2 191.2L304.5 190.3L305.2 190.2L305.8 189.2L306.4 189.4L307.0 190.4L307.3 191.2L307.7 190.5L308.0 191.6L308.3 192.9L308.5 194.1L308.8 194.6L309.0 195.4L309.3 195.9L309.5 196.5L309.8 198.5L310.2 199.4L310.5 199.3L310.8 199.9L311.1 200.3L311.4 202.2L311.7 202.3L312.0 203.2L312.2 202.1L312.5 201.6L312.7 201.2L312.9 199.1L313.1 198.6L313.3 197.7L313.6 198.3L313.9 200.7L314.0 200.7L314.2 202.4L314.3 202.4L314.5 203.4L314.6 204.6L314.8 205.0L315.4 206.2L316.0 205.6L316.7 204.7L317.3 204.9L317.9 203.7L318.5 204.0L318.8 205.3L319.2 206.3L319.5 207.7L319.8 208.3L320.0 208.9L320.3 209.3L320.5 210.4L320.7 210.9L321.0 211.3L321.4 212.9L321.8 213.8L322.2 213.9L322.6 215.4L322.9 215.8L323.3 216.2L323.6 217.9L323.9 217.1L324.2 218.3L324.5 219.1L324.8 220.5L325.1 220.6L325.4 222.4L325.8 222.0L326.2 223.3L326.6 224.2L327.0 225.2L327.4 225.6L327.8 226.5L328.2 227.7L328.6 228.5L328.9 229.0L329.6 230.1L330.1 230.5" fill="none" stroke="#000" stroke-width="1.4" stroke-linejoin="round"/><path d="M288.9 157.0V231.2H363.0" fill="none" stroke="#000" stroke-width="2.7"/><text x="325.8" y="249.5" font-size="15.0" text-anchor="middle" stroke="#000" stroke-width="0.35">NB69</text><path d="M408.6 233.0L408.7 232.5L408.8 231.9L408.9 231.2L409.0 230.5L409.2 229.4L409.4 228.5L409.5 227.5L409.7 226.7L409.9 226.2L410.1 225.6L410.3 224.8L410.6 224.1L410.8 221.9L411.1 221.4L411.4 222.0L411.6 220.5L411.9 218.9L412.2 219.1L412.5 218.9L412.8 216.7L413.0 216.2L413.3 215.1L413.6 215.9L413.9 213.6L414.2 212.9L414.5 211.7L414.7 210.9L415.0 209.9L415.2 209.0L415.4 209.3L415.5 208.0L415.7 207.4L415.8 207.0L415.9 205.6L416.1 205.6L416.2 203.8L416.3 203.4L416.4 202.3L416.6 202.2L416.7 200.7L416.8 199.6L416.9 200.0L417.1 198.9L417.2 197.2L417.3 197.0L417.5 195.8L417.6 194.1L417.7 193.6L417.8 193.6L418.0 191.5L418.1 190.7L418.2 190.4L418.3 190.0L418.4 188.2L418.5 189.2L418.6 188.4L418.7 187.1L418.8 186.3L418.8 185.6L418.9 184.6L419.0 182.9L419.1 181.5L419.1 181.3L419.2 181.0L419.3 180.7L419.4 179.4L419.6 177.1L419.7 176.4L419.8 176.0L419.9 175.0L420.1 174.4L420.2 174.6L420.4 173.0L420.6 172.1L420.8 171.7L421.1 169.9L421.3 169.7L421.7 170.7L422.1 170.9L422.5 172.6L422.7 173.2L422.8 173.2L423.0 173.7L423.2 175.1L423.4 175.6L423.6 176.5L423.7 176.6L423.9 179.3L424.1 180.2L424.3 179.4L424.6 180.6L424.8 181.7L425.0 182.6L425.2 183.4L425.4 184.2L425.6 185.5L425.8 185.4L426.1 186.1L426.3 188.0L426.5 187.7L426.7 189.8L426.9 189.3L427.1 191.7L427.2 190.8L427.4 192.3L427.6 193.9L427.7 194.6L427.9 195.4L428.0 196.1L428.2 197.3L428.3 196.6L428.5 198.7L428.7 199.8L428.9 199.0L429.0 200.9L429.2 202.3L429.4 203.2L429.6 204.2L429.8 203.7L430.0 205.4L430.2 205.4L430.4 206.2L430.6 208.1L430.8 207.5L431.0 208.5L431.3 210.3L431.5 210.6L431.7 211.3L432.0 212.6L432.2 213.8L432.5 213.4L432.7 214.5L432.9 214.2L433.2 216.2L433.4 215.8L433.7 217.2L434.0 218.3L434.3 218.6L434.6 220.3L434.9 221.7L435.3 221.7L435.6 221.9L436.0 223.7L436.4 224.5L436.8 224.4L437.1 225.7L437.5 226.6L437.9 227.2L438.3 227.5L438.7 228.2L439.3 228.8L439.9 229.4L440.5 230.0L441.0 230.8L441.6 231.1L442.2 231.6L442.8 232.0L443.7 232.4L444.7 232.7L445.6 232.8L446.4 232.9L447.0 233.0L447.0 232.9L408.6 232.9Z" fill="#969696" stroke="none"/><path d="M433.5 206.0L433.7 204.6L434.0 204.1L434.4 203.0L434.7 203.0L434.9 201.9L435.2 201.1L435.6 200.3L436.5 199.2L437.5 200.7L438.4 199.9L439.4 200.1L440.4 198.7L441.3 198.7L442.2 200.0L443.1 199.3L444.1 199.6L445.0 200.7L445.3 201.3L445.6 202.3L445.8 203.2L446.1 203.5L446.3 204.1L446.5 205.5L446.7 206.3L446.9 207.6L447.1 208.6L447.3 209.7L447.5 209.9L447.9 210.7L448.4 212.0L448.9 213.1L449.4 213.3L450.0 212.9L450.7 214.0L451.3 215.8L451.9 216.5L452.5 216.0L453.1 216.5L453.7 216.8L454.4 217.7L455.0 218.2L455.9 220.3L456.9 220.8L457.4 220.3L457.9 220.6L458.3 222.9L458.8 223.2L459.3 224.3L459.7 224.2L460.1 225.7L460.6 226.3L461.1 226.9L461.5 227.6L462.0 228.3L462.5 229.0L463.0 230.0L463.6 230.6L464.2 231.6L464.7 232.4L465.0 233.0" fill="none" stroke="#2a2a2a" stroke-width="1.2" stroke-dasharray="1.6 1.1"/><path d="M418.1 233.0L418.4 232.5L418.8 231.8L419.2 231.0L419.7 230.0L420.2 229.3L420.6 227.7L420.8 227.3L421.0 226.8L421.2 225.9L421.4 225.5L421.6 223.8L421.8 223.1L421.9 222.1L422.1 221.0L422.3 220.0L422.5 220.0L422.7 218.8L422.9 218.5L423.1 218.3L423.3 217.5L423.6 216.4L423.8 214.8L424.0 214.1L424.2 214.4L424.4 212.5L424.8 212.5L425.2 210.5L425.6 210.0L426.0 209.5L426.3 209.8L426.9 209.5L427.5 210.6L427.9 210.4L428.4 211.2L429.0 212.9L429.4 213.2L430.0 214.9L430.6 214.3L430.8 213.9L431.0 214.0L431.2 213.0L431.5 212.0L431.7 211.9L431.9 210.8L432.0 208.9L432.1 208.0L432.1 207.5L432.2 206.7L432.3 206.9L432.4 205.5L432.5 205.7L432.5 203.1L432.6 203.2L432.7 201.6L432.8 202.0L432.9 200.3L432.9 199.2L433.0 199.0L433.1 198.7L433.2 196.3L433.3 195.9L433.4 196.3L433.4 194.6L433.5 193.1L433.6 193.8L433.7 193.0L433.8 191.2L433.9 190.0L434.0 188.9L434.1 189.4L434.1 188.6L434.2 187.8L434.3 187.0L434.4 185.7L434.5 184.6L434.6 184.2L434.8 183.6L434.9 182.2L435.0 181.4L435.1 180.4L435.2 180.4L435.4 180.0L435.5 178.1L435.6 178.8L436.3 177.1L436.9 175.8L437.4 174.9L437.8 175.3L438.4 175.1L439.0 176.2L439.2 177.4L439.4 178.1L439.6 178.4L439.7 178.9L439.9 179.2L440.1 180.1L440.3 182.6L440.4 182.3L440.5 183.8L440.6 183.9L440.7 184.6L440.8 186.3L440.9 186.3L441.0 187.0L441.1 189.6L441.2 189.4L441.3 190.2L441.4 191.7L441.5 191.5L441.6 193.4L441.7 193.2L441.9 195.0L442.0 195.8L442.1 195.4L442.3 196.7L442.4 198.3L442.5 198.4L442.7 199.1L442.8 199.2L442.9 200.2L443.1 202.4L443.2 203.3L443.4 203.3L443.6 204.4L443.7 204.2L443.9 206.5L444.1 206.7L444.2 207.7L444.4 208.6L444.6 208.4L444.8 210.0L445.0 210.4L445.2 210.8L445.4 211.4L445.7 213.1L445.9 212.9L446.1 213.6L446.3 214.8L446.5 215.7L446.7 216.5L446.9 216.9L447.1 219.1L447.3 218.3L447.5 220.3L447.7 221.0L447.9 221.2L448.1 221.7L448.4 223.5L448.7 224.2L449.0 224.4L449.3 225.9L449.6 226.4L450.0 226.7L450.5 228.2L451.0 228.7L451.5 229.4L452.0 230.5L452.5 231.1L453.2 231.9L453.9 232.6L454.4 233.0" fill="none" stroke="#000" stroke-width="1.4" stroke-linejoin="round"/><path d="M406.5 157.0V232.9H482.0" fill="none" stroke="#000" stroke-width="2.7"/><text x="445.1" y="251.3" font-size="15.0" text-anchor="middle" stroke="#000" stroke-width="0.35">NBLS</text><path d="M70.2 339.2L70.2 338.7L70.3 338.1L70.4 337.5L70.4 336.8L70.5 336.0L70.6 334.9L70.7 334.1L70.8 333.6L70.8 332.6L70.9 331.0L71.0 330.0L71.1 328.8L71.1 329.2L71.2 327.1L71.3 327.4L71.3 327.1L71.4 326.1L71.4 324.4L71.5 324.5L71.5 322.5L71.6 323.0L71.6 321.0L71.7 321.2L71.7 319.0L71.7 319.2L71.8 319.2L71.8 316.9L71.8 315.8L71.9 315.5L71.9 313.7L71.9 312.9L72.0 313.2L72.0 313.0L72.0 312.2L72.1 311.2L72.1 309.9L72.3 309.2L72.4 308.4L72.6 307.5L72.7 306.3L72.8 306.0L72.9 304.3L73.0 303.3L73.1 302.2L73.2 301.6L73.3 300.9L73.4 299.8L73.5 300.1L73.6 298.6L73.7 297.6L73.8 297.8L73.9 296.7L74.0 294.1L74.1 293.9L74.2 293.8L74.3 292.5L74.4 292.7L74.5 291.3L74.6 290.9L74.7 289.5L74.8 287.8L74.9 286.8L75.0 286.8L75.2 285.2L75.3 285.1L75.5 284.7L75.7 283.7L75.9 283.4L76.6 281.4L77.3 283.0L77.9 283.5L78.5 282.6L79.0 282.6L79.4 281.9L79.8 281.7L80.2 282.6L80.2 283.3L80.3 283.8L80.3 284.3L80.3 286.2L80.4 286.6L80.4 287.4L80.4 287.0L80.4 288.1L80.4 289.7L80.5 291.2L80.5 291.4L80.5 293.1L80.5 292.7L80.6 294.7L80.6 295.9L80.6 296.6L80.7 297.2L80.7 296.8L80.8 298.1L80.8 299.1L80.9 299.2L81.0 300.7L81.0 302.8L81.1 302.6L81.1 304.1L81.2 303.8L81.2 304.5L81.3 305.2L81.4 306.6L81.4 308.4L81.5 309.0L81.5 308.7L81.6 309.9L81.6 310.4L81.7 311.6L81.7 312.6L81.8 314.2L81.8 313.4L81.9 315.3L82.0 315.8L82.1 317.2L82.2 318.4L82.3 318.0L82.4 319.4L82.5 321.2L82.6 321.5L82.7 322.0L82.9 322.6L83.0 324.0L83.1 325.0L83.2 325.4L83.4 325.8L83.5 326.8L83.7 327.2L83.8 328.6L84.0 330.1L84.2 331.3L84.4 331.3L84.6 332.1L84.7 333.2L84.9 334.1L85.1 334.2L85.3 335.3L85.8 335.9L86.3 337.1L86.8 337.4L87.2 338.0L88.0 338.7L88.5 339.2L88.5 339.7L70.2 339.7Z" fill="#969696" stroke="none"/><path d="M85.3 320.5L85.8 319.7L86.5 319.1L87.2 318.1L87.6 317.4L87.9 317.1L88.3 316.6L88.6 315.3L88.9 314.8L89.3 313.6L89.6 312.7L90.0 312.6L90.4 312.1L90.8 310.6L91.2 310.0L91.5 308.2L91.8 308.7L92.1 307.5L92.4 306.7L92.9 304.8L93.4 305.1L93.7 305.7L94.1 305.7L94.4 307.1L94.8 308.4L95.5 308.8L96.3 309.4L96.5 309.9L96.7 311.2L96.9 311.8L97.1 311.5L97.3 313.0L97.5 313.3L97.7 315.7L97.9 316.2L98.2 316.3L98.5 317.0L98.7 318.0L99.0 319.4L99.2 320.0L99.5 320.0L99.8 322.0L100.0 322.1L100.3 322.9L100.6 324.9L101.0 325.6L101.3 326.4L101.7 327.1L102.1 327.1L102.8 326.8L103.5 327.8L104.0 329.0L104.5 330.6L104.8 330.5L105.2 331.0L105.6 332.9L106.0 333.4L106.4 334.3L106.9 334.8L107.4 335.5L107.9 336.2L108.3 336.9L108.9 337.8L109.4 338.7L109.8 339.2" fill="none" stroke="#2a2a2a" stroke-width="1.2" stroke-dasharray="1.6 1.1"/><path d="M76.6 284.0L76.7 282.7L76.8 282.1L76.9 282.2L77.0 280.3L77.2 280.7L77.3 279.6L77.4 278.4L77.5 276.8L77.7 276.3L77.8 274.2L77.9 274.2L78.0 273.5L78.1 273.9L78.2 275.5L78.3 275.1L78.4 277.2L78.5 278.4L78.6 278.3L78.7 280.7L78.8 280.4L78.8 281.3L78.9 281.7L79.0 283.0L79.1 284.7L79.2 284.7L79.3 286.1L79.3 286.9L79.4 287.8L79.5 288.3L79.5 288.6L79.6 289.3L79.7 290.2L79.8 291.1L79.8 292.9L79.9 293.7L80.0 293.6L80.1 294.6L80.2 295.2L80.3 297.5L80.3 296.8L80.4 298.2L80.5 298.6L80.6 299.5L80.7 301.8L80.7 301.7L80.8 303.0L80.9 304.2L81.0 304.6L81.1 306.0L81.2 306.7L81.3 307.2L81.3 308.0L81.4 309.3L81.5 309.6L81.6 309.7L81.7 311.8L81.9 312.6L82.0 313.7L82.2 314.0L82.3 314.4L82.4 315.0L82.6 316.2L82.7 316.0L82.9 317.7L83.0 318.4L83.2 319.6L83.4 319.4L83.6 320.9L83.8 321.6L84.0 322.5L84.2 323.0L84.4 323.1L84.6 325.6L84.9 326.5L85.2 326.0L85.4 328.2L85.7 328.5L86.0 328.4L86.3 330.2L86.7 330.6L87.1 331.6L87.5 332.2L87.8 333.7L88.2 334.3L88.6 334.8L89.0 336.0L89.5 336.9L89.9 338.0L90.2 338.6L90.5 339.2" fill="none" stroke="#000" stroke-width="1.4" stroke-linejoin="round"/><path d="M68.7 270.2V339.7H138.8" fill="none" stroke="#000" stroke-width="2.7"/><text x="103.2" y="357.9" font-size="15.0" text-anchor="middle" stroke="#000" stroke-width="0.35">NLF</text><path d="M185.0 339.0L185.0 338.5L185.1 338.0L185.1 337.5L185.1 336.8L185.2 336.2L185.2 335.2L185.3 334.7L185.3 333.6L185.4 332.1L185.4 331.6L185.5 330.0L185.6 330.5L185.6 329.6L185.7 327.5L185.7 326.5L185.8 326.4L185.9 324.3L185.9 323.4L186.0 322.5L186.0 322.0L186.1 321.7L186.1 321.6L186.2 319.4L186.3 319.9L186.4 318.1L186.4 317.9L186.5 316.8L186.6 314.7L186.7 314.8L186.7 313.0L186.8 311.9L186.9 312.0L187.0 312.0L187.0 310.9L187.1 309.4L187.2 310.0L187.2 309.5L187.3 307.5L187.4 306.9L187.5 306.5L187.6 306.2L187.7 303.9L187.8 304.0L187.8 304.1L187.9 302.6L188.0 302.1L188.1 301.4L188.2 300.0L188.3 298.8L188.3 298.6L188.4 297.6L188.5 296.3L188.6 296.4L188.6 294.5L188.7 293.9L188.8 293.6L188.9 292.8L188.9 292.2L189.0 291.0L189.1 289.5L189.3 289.6L189.4 288.9L189.6 287.7L189.8 287.2L190.0 285.9L190.2 285.0L190.3 284.3L190.5 282.4L190.6 282.3L190.8 281.5L191.0 279.0L191.1 279.3L191.3 278.6L191.4 277.2L191.5 277.3L191.7 278.9L191.8 278.9L192.0 280.1L192.1 281.8L192.2 283.0L192.4 284.4L192.5 285.1L192.6 285.4L192.7 285.6L192.8 286.6L192.9 287.6L193.0 289.2L193.1 290.4L193.2 290.3L193.3 291.6L193.4 293.5L193.5 293.3L193.6 294.7L193.7 295.2L193.8 296.4L194.0 297.0L194.1 298.1L194.2 299.3L194.3 299.1L194.5 301.2L194.6 302.1L194.8 301.1L195.2 302.4L195.7 303.1L196.1 303.4L196.6 304.3L196.9 306.0L197.2 305.7L197.5 306.4L197.8 309.1L198.0 308.9L198.3 310.1L198.5 310.8L198.7 311.3L198.9 312.4L199.0 312.8L199.2 314.4L199.3 314.6L199.5 315.3L199.7 316.3L199.8 317.6L200.0 319.5L200.1 319.8L200.3 321.4L200.4 321.0L200.6 321.5L200.8 323.4L201.0 323.2L201.3 325.6L201.5 325.1L201.8 325.5L202.2 326.4L202.6 327.2L203.0 329.2L203.5 329.9L204.2 329.8L205.0 329.9L205.8 330.3L206.6 331.1L207.3 332.1L208.1 333.2L208.8 333.8L209.6 334.7L210.4 335.3L211.1 335.4L211.9 336.1L212.6 336.5L213.3 337.1L214.2 337.6L215.0 338.6L215.6 339.0L215.6 339.9L185.0 339.9Z" fill="#969696" stroke="none"/><path d="M192.5 339.0L192.8 338.5L193.1 338.0L193.6 337.1L194.0 336.5L194.5 335.6L195.0 334.5L195.5 333.9L196.0 333.1L196.4 331.7L196.9 331.6L197.3 331.0L197.8 330.1L198.2 329.9L198.7 329.0L199.1 327.6L199.5 326.5L199.8 325.6L200.2 326.0L200.5 325.0L200.8 324.0L201.1 322.9L201.4 322.2L201.7 320.9L202.0 320.7L202.3 319.4L202.8 319.2L203.3 318.5L203.8 317.8L204.2 316.4L204.7 315.3L205.1 314.9L205.5 314.7L205.9 313.5L206.3 313.0L206.7 311.6L207.0 310.8L207.5 310.8L207.9 308.7L208.3 308.1L208.7 308.2L209.3 307.4L209.9 306.4L210.4 306.1L211.0 305.5L211.6 305.8L212.4 306.2L213.3 306.6L213.6 306.8L213.8 307.3L214.0 309.0L214.2 309.0L214.5 310.2L214.8 311.5L215.1 312.0L215.5 312.3L215.9 313.7L216.2 314.2L216.6 315.6L217.0 315.8L217.5 316.3L217.9 317.9L218.3 317.8L218.8 318.3L219.3 320.0L219.7 320.8L220.1 320.2L220.5 320.7L220.9 322.9L221.4 323.7L221.9 323.6L222.5 324.1L223.1 325.7L223.7 326.8L224.5 326.2L225.2 327.2L226.0 328.3L226.6 328.2L227.2 329.3L227.7 329.7L228.3 331.0L228.9 331.4L229.5 332.1L230.0 333.2L230.6 333.7L231.4 334.4L232.1 335.1L232.9 336.0L233.5 336.7L234.2 337.7L234.8 338.4L235.2 339.0" fill="none" stroke="#2a2a2a" stroke-width="1.2" stroke-dasharray="1.6 1.1"/><path d="M185.0 339.0L185.1 338.6L185.1 337.9L185.2 337.5L185.3 336.9L185.4 335.9L185.5 335.2L185.6 333.9L185.8 333.0L185.9 332.1L186.0 331.6L186.1 330.0L186.3 330.2L186.4 327.8L186.5 327.0L186.6 325.9L186.7 326.3L186.8 324.8L186.9 324.1L187.0 323.0L187.0 322.7L187.1 321.4L187.2 320.2L187.3 319.8L187.3 318.7L187.4 317.5L187.4 318.0L187.5 316.9L187.6 316.1L187.6 315.7L187.7 314.0L187.8 313.3L187.8 312.6L187.9 311.8L188.0 311.4L188.1 309.2L188.2 309.1L188.3 308.4L188.4 307.1L188.5 305.7L188.6 306.1L188.7 304.0L188.8 304.3L188.9 302.8L189.0 301.8L189.1 301.4L189.3 300.1L189.4 299.3L189.6 299.3L189.7 298.6L189.9 297.1L190.0 296.9L190.2 296.0L190.5 294.7L190.9 294.4L191.2 292.7L191.6 293.1L192.0 292.8L192.3 293.4L192.6 293.1L193.0 294.3L193.3 294.9L193.6 296.3L193.9 298.2L194.2 298.9L194.5 299.6L194.9 299.1L195.2 300.9L195.6 301.8L196.0 302.6L196.4 303.2L196.8 302.7L197.1 303.5L197.5 305.5L197.7 306.1L198.0 307.2L198.2 307.2L198.5 308.9L198.7 308.4L199.0 310.8L199.2 311.5L199.4 311.4L199.7 311.8L199.9 313.6L200.1 314.7L200.4 315.0L200.6 315.2L200.9 316.5L201.3 318.4L201.7 317.8L202.1 320.1L202.5 319.6L203.0 320.1L203.6 320.6L204.1 322.7L204.7 323.1L205.2 322.7L205.7 323.0L206.2 324.8L206.6 325.9L207.0 325.1L207.4 327.0L207.9 328.2L208.3 328.2L208.7 329.1L209.3 330.2L209.8 330.0L210.4 330.7L211.0 331.8L211.6 332.3L212.2 333.0L212.6 333.5L213.1 334.8L213.5 335.1L213.9 336.1L214.4 337.0L214.9 337.7L215.3 338.4L215.6 339.0" fill="none" stroke="#000" stroke-width="1.4" stroke-linejoin="round"/><path d="M183.3 270.2V339.9H252.7" fill="none" stroke="#000" stroke-width="2.7"/><text x="218.3" y="357.6" font-size="15.0" text-anchor="middle" stroke="#000" stroke-width="0.35">SY5Y</text><path d="M293.8 339.0L294.0 338.6L294.2 337.9L294.5 337.4L294.8 336.4L295.1 335.6L295.5 334.6L295.8 333.9L296.1 332.5L296.3 332.2L296.6 331.3L296.8 330.1L297.0 330.6L297.3 330.0L297.5 327.8L297.8 327.9L298.0 326.8L298.2 325.7L298.4 325.2L298.6 324.6L298.7 323.1L298.9 322.5L299.0 322.0L299.2 322.2L299.3 321.3L299.5 320.2L299.6 318.7L299.7 318.7L299.9 317.9L300.0 316.8L300.1 314.4L300.2 314.1L300.3 313.0L300.3 312.7L300.4 312.7L300.5 311.2L300.5 310.0L300.6 308.9L300.7 308.0L300.7 308.5L300.8 307.8L300.9 306.8L300.9 304.2L301.0 303.8L301.0 302.7L301.1 302.5L301.2 301.1L301.2 300.8L301.3 299.9L301.4 299.4L301.4 298.3L301.5 297.4L301.5 295.6L301.6 296.5L301.7 294.6L301.7 294.5L301.8 292.5L301.8 291.2L301.9 292.1L302.0 290.2L302.0 288.7L302.1 289.5L302.2 288.7L302.2 286.3L302.3 287.2L302.3 284.9L302.4 284.3L302.5 283.0L302.7 283.3L302.8 281.8L303.0 280.9L303.2 280.4L303.3 278.9L303.5 277.8L303.6 277.2L304.0 275.7L304.3 275.1L304.7 274.1L304.8 274.5L304.9 275.3L305.0 275.6L305.1 276.5L305.2 277.5L305.3 278.4L305.4 279.8L305.5 281.9L305.6 282.5L305.7 282.2L305.8 283.3L305.9 284.7L306.0 285.8L306.1 286.6L306.2 287.6L306.3 288.8L306.4 289.4L306.4 289.5L306.5 290.4L306.6 292.7L306.7 292.5L306.8 294.2L306.9 295.0L307.0 295.6L307.1 296.1L307.2 297.2L307.3 297.1L307.4 297.8L307.5 299.0L307.6 299.5L307.7 300.3L307.8 301.0L307.9 302.0L308.0 302.5L308.1 303.5L308.2 305.5L308.3 305.0L308.4 307.2L308.5 308.0L308.6 307.7L308.7 309.1L308.9 310.2L309.0 311.6L309.1 311.7L309.2 311.5L309.3 312.1L309.4 313.3L309.6 314.1L309.7 316.4L309.9 317.4L310.0 316.8L310.2 319.0L310.3 320.0L310.5 319.4L310.8 321.0L311.0 321.3L311.3 322.5L311.6 323.9L311.9 323.6L312.2 325.0L312.5 326.1L312.8 327.4L313.1 328.5L313.4 329.2L313.7 329.1L314.0 329.7L314.4 331.5L314.9 332.2L315.3 332.9L315.8 333.4L316.3 334.4L316.9 334.4L317.4 335.1L318.1 336.1L318.6 336.4L319.2 337.1L320.1 337.8L320.9 338.5L321.5 339.0L321.5 339.9L293.8 339.9Z" fill="#969696" stroke="none"/><path d="M313.4 339.0L313.6 338.5L313.8 337.8L314.0 337.0L314.3 336.1L314.6 335.3L314.8 334.2L315.1 332.7L315.3 332.0L315.4 331.5L315.6 330.6L315.8 330.7L315.9 329.6L316.1 328.3L316.3 327.3L316.5 326.2L316.6 326.0L316.8 325.8L317.0 323.6L317.1 323.3L317.3 322.2L317.5 321.8L317.6 320.3L317.8 319.1L317.9 319.3L318.1 317.8L318.3 317.7L318.4 317.4L318.6 316.1L318.9 315.6L319.2 314.5L319.5 312.3L319.7 311.8L320.0 311.9L320.3 311.0L320.9 309.2L321.4 310.1L322.0 309.3L322.9 308.4L323.8 308.0L324.2 306.4L324.5 305.9L324.9 304.4L325.8 305.7L326.7 306.8L327.3 304.3L327.8 303.6L328.0 304.5L328.3 305.7L328.5 305.2L328.8 306.7L329.0 308.2L329.1 308.0L329.2 308.6L329.3 310.6L329.4 311.2L329.6 312.0L329.7 312.8L329.8 312.9L329.9 314.4L330.0 315.2L330.1 316.0L330.3 316.4L330.4 317.2L330.6 318.9L330.7 320.1L330.9 320.9L331.1 322.1L331.3 321.8L331.7 322.8L332.1 323.4L332.6 324.3L333.0 325.3L333.4 326.4L333.8 325.8L334.3 327.4L334.7 328.5L335.1 329.2L335.6 329.5L336.1 329.7L336.5 330.8L337.1 331.8L337.6 332.6L338.2 332.7L338.6 333.5L339.0 334.3L339.5 334.9L339.9 336.3L340.4 336.8L340.9 337.7L341.4 338.6L341.7 339.0" fill="none" stroke="#2a2a2a" stroke-width="1.2" stroke-dasharray="1.6 1.1"/><path d="M296.1 339.0L296.3 338.6L296.6 337.9L297.0 337.5L297.4 336.5L297.9 335.6L298.3 334.9L298.8 333.6L299.2 332.6L299.5 331.9L299.7 330.9L300.0 330.8L300.2 329.6L300.4 328.8L300.6 327.8L300.8 326.8L300.9 326.8L301.1 326.3L301.3 324.4L301.5 324.4L301.6 322.6L301.8 322.5L301.9 320.8L302.1 320.6L302.2 319.5L302.3 319.6L302.5 318.5L302.6 316.5L302.7 315.7L302.8 315.5L303.0 314.2L303.1 313.5L303.2 313.9L303.3 313.1L303.4 310.6L303.5 309.9L303.6 310.2L303.7 309.9L303.8 308.9L303.9 307.6L304.0 306.8L304.1 305.4L304.2 304.5L304.3 304.4L304.4 302.2L304.4 302.4L304.5 301.7L304.6 300.0L304.7 300.5L304.9 298.2L305.1 298.7L305.3 297.4L305.5 296.1L305.7 295.7L305.9 295.9L306.3 293.8L306.7 293.5L307.0 294.9L307.3 296.3L307.6 296.4L307.7 298.2L307.9 298.2L308.0 299.6L308.2 300.1L308.3 301.9L308.5 302.2L308.7 303.9L308.8 304.8L308.9 304.1L309.0 306.4L309.1 306.9L309.2 306.6L309.3 308.2L309.5 308.5L309.6 308.9L309.7 309.7L309.8 311.0L309.9 312.7L310.1 312.2L310.2 314.1L310.4 315.5L310.6 315.4L310.8 316.9L310.9 317.4L311.1 318.5L311.3 318.9L311.5 320.5L311.7 320.2L311.9 320.6L312.2 321.3L312.4 322.3L312.7 322.9L312.9 325.3L313.2 324.7L313.5 326.9L313.7 327.7L314.0 327.9L314.3 328.2L314.6 329.3L314.8 331.2L315.1 331.3L315.4 332.6L315.7 332.6L316.1 333.5L316.6 334.7L317.1 335.5L317.5 336.2L318.0 337.1L318.9 337.9L319.7 338.6L320.3 339.0" fill="none" stroke="#000" stroke-width="1.1" stroke-linejoin="round"/><path d="M290.3 270.2V339.9H365.5" fill="none" stroke="#000" stroke-width="2.7"/><text x="330.4" y="357.9" font-size="15.0" text-anchor="middle" stroke="#000" stroke-width="0.35">CHP-134</text><text x="0" y="0" font-size="19" font-weight="bold" stroke="#000" stroke-width="0.35" transform="translate(26.4 399.2) scale(0.97 1.16)">B</text><text x="115.8" y="399.1" font-size="18.9" text-anchor="start" stroke="#000" stroke-width="0.35">Patient B</text><text x="340.1" y="399.5" font-size="18.9" text-anchor="start" stroke="#000" stroke-width="0.35">Patient C</text><text x="60.5" y="425.7" font-size="14.3" text-anchor="start" stroke="#000" stroke-width="0.35">survivin mRNA</text><text x="168.0" y="425.8" font-size="14.0" text-anchor="start" stroke="#000" stroke-width="0.35">GFP mRNA</text><text x="289.3" y="426.3" font-size="14.3" text-anchor="start" stroke="#000" stroke-width="0.35">survivin mRNA</text><text x="397.1" y="426.4" font-size="14.0" text-anchor="start" stroke="#000" stroke-width="0.35">GFP mRNA</text><text x="0" y="0" font-size="14.4" text-anchor="middle" stroke="#000" stroke-width="0.35" transform="translate(42.9 485.3) rotate(-90)">% specific lysis</text><rect x="68.7" y="430.2" width="70.6" height="117.9" fill="none" stroke="#707070" stroke-width="1.3"/><text x="66.2" y="449.0" font-size="14.0" text-anchor="end" stroke="#000" stroke-width="0.35">30</text><text x="66.2" y="484.6" font-size="14.0" text-anchor="end" stroke="#000" stroke-width="0.35">20</text><text x="66.2" y="520.5" font-size="14.0" text-anchor="end" stroke="#000" stroke-width="0.35">10</text><text x="75.3" y="558.2" font-size="9.6" text-anchor="middle" stroke="#000" stroke-width="0.35">3:1</text><text x="102.3" y="558.2" font-size="9.6" text-anchor="middle" stroke="#000" stroke-width="0.35">10:1</text><text x="130.9" y="558.2" font-size="9.6" text-anchor="middle" stroke="#000" stroke-width="0.35">30:1</text><polyline points="75.5,541.3 102.8,516.0 133.5,490.6" fill="none" stroke="#ababab" stroke-width="1"/><polyline points="74.5,543.9 102.8,533.5 131.0,522.7" fill="none" stroke="#ababab" stroke-width="1"/><ellipse cx="75.5" cy="541.3" rx="3.05" ry="3.5" fill="#111"/><ellipse cx="102.8" cy="516.0" rx="3.05" ry="3.5" fill="#111"/><ellipse cx="133.5" cy="490.6" rx="3.05" ry="3.5" fill="#111"/><circle cx="74.5" cy="543.9" r="3.0" fill="#fff" stroke="#000" stroke-width="1.2"/><circle cx="102.8" cy="533.5" r="3.0" fill="#fff" stroke="#000" stroke-width="1.2"/><circle cx="131.0" cy="522.7" r="3.0" fill="#fff" stroke="#000" stroke-width="1.2"/><rect x="170.5" y="431.3" width="71.5" height="117.7" fill="none" stroke="#707070" stroke-width="1.3"/><text x="168.6" y="449.4" font-size="14.0" text-anchor="end" stroke="#000" stroke-width="0.35">30</text><text x="168.6" y="485.0" font-size="14.0" text-anchor="end" stroke="#000" stroke-width="0.35">20</text><text x="168.6" y="520.9" font-size="14.0" text-anchor="end" stroke="#000" stroke-width="0.35">10</text><text x="177.5" y="559.0" font-size="9.6" text-anchor="middle" stroke="#000" stroke-width="0.35">3:1</text><text x="204.0" y="559.0" font-size="9.6" text-anchor="middle" stroke="#000" stroke-width="0.35">10:1</text><text x="232.7" y="559.0" font-size="9.6" text-anchor="middle" stroke="#000" stroke-width="0.35">30:1</text><polyline points="177.0,543.4 205.0,544.8 235.7,532.4" fill="none" stroke="#ababab" stroke-width="1"/><polyline points="174.3,543.4 205.0,540.2 235.7,542.3" fill="none" stroke="#ababab" stroke-width="1"/><ellipse cx="177.0" cy="543.4" rx="3.05" ry="3.5" fill="#111"/><ellipse cx="205.0" cy="544.8" rx="3.05" ry="3.5" fill="#111"/><ellipse cx="235.7" cy="532.4" rx="3.05" ry="3.5" fill="#111"/><circle cx="174.3" cy="543.4" r="3.0" fill="#fff" stroke="#000" stroke-width="1.2"/><circle cx="205.0" cy="540.2" r="3.0" fill="#fff" stroke="#000" stroke-width="1.2"/><circle cx="235.7" cy="542.3" r="3.0" fill="#fff" stroke="#000" stroke-width="1.2"/><text x="128.5" y="575.0" font-size="14.0" text-anchor="start" stroke="#000" stroke-width="0.35">E:T ratio</text><rect x="300.8" y="430.4" width="71.4" height="117.7" fill="none" stroke="#707070" stroke-width="1.3"/><text x="298.3" y="447.6" font-size="14.0" text-anchor="end" stroke="#000" stroke-width="0.35">45</text><text x="298.3" y="486.4" font-size="14.0" text-anchor="end" stroke="#000" stroke-width="0.35">30</text><text x="298.3" y="523.5" font-size="14.0" text-anchor="end" stroke="#000" stroke-width="0.35">15</text><text x="306.0" y="557.9" font-size="9.6" text-anchor="middle" stroke="#000" stroke-width="0.35">5:1</text><text x="335.6" y="557.9" font-size="9.6" text-anchor="middle" stroke="#000" stroke-width="0.35">15:1</text><text x="364.2" y="557.9" font-size="9.6" text-anchor="middle" stroke="#000" stroke-width="0.35">45:1</text><polyline points="306.0,534.3 334.9,499.4 366.0,483.6" fill="none" stroke="#ababab" stroke-width="1"/><polyline points="306.5,543.5 337.7,535.0 366.8,521.5" fill="none" stroke="#ababab" stroke-width="1"/><polyline points="305.0,541.2 337.2,541.2 366.5,526.5" fill="none" stroke="#ababab" stroke-width="1"/><polyline points="307.5,540.4 338.8,544.2 365.2,541.5" fill="none" stroke="#ababab" stroke-width="1"/><path d="M307.5 535.6L311.4 540.4L307.5 545.2L303.6 540.4Z" fill="#111" stroke="#000" stroke-width="0.6"/><path d="M338.8 539.4L342.7 544.2L338.8 549.0L334.9 544.2Z" fill="#111" stroke="#000" stroke-width="0.6"/><path d="M365.2 536.7L369.1 541.5L365.2 546.3L361.3 541.5Z" fill="#111" stroke="#000" stroke-width="0.6"/><ellipse cx="306.0" cy="534.3" rx="3.05" ry="3.5" fill="#111"/><ellipse cx="334.9" cy="499.4" rx="3.05" ry="3.5" fill="#111"/><ellipse cx="366.0" cy="483.6" rx="3.05" ry="3.5" fill="#111"/><path d="M305.0 536.4L308.9 541.2L305.0 546.0L301.1 541.2Z" fill="#fff" stroke="#000" stroke-width="1.3"/><path d="M337.2 536.4L341.1 541.2L337.2 546.0L333.3 541.2Z" fill="#fff" stroke="#000" stroke-width="1.3"/><path d="M366.5 521.7L370.4 526.5L366.5 531.3L362.6 526.5Z" fill="#fff" stroke="#000" stroke-width="1.3"/><circle cx="306.5" cy="543.5" r="3.0" fill="#fff" stroke="#000" stroke-width="1.2"/><circle cx="337.7" cy="535.0" r="3.0" fill="#fff" stroke="#000" stroke-width="1.2"/><circle cx="366.8" cy="521.5" r="3.0" fill="#fff" stroke="#000" stroke-width="1.2"/><rect x="398.8" y="431.3" width="71.7" height="117.7" fill="none" stroke="#707070" stroke-width="1.3"/><text x="396.3" y="447.3" font-size="14.0" text-anchor="end" stroke="#000" stroke-width="0.35">45</text><text x="396.3" y="485.8" font-size="14.0" text-anchor="end" stroke="#000" stroke-width="0.35">30</text><text x="396.3" y="523.6" font-size="14.0" text-anchor="end" stroke="#000" stroke-width="0.35">15</text><text x="403.9" y="558.4" font-size="9.6" text-anchor="middle" stroke="#000" stroke-width="0.35">5:1</text><text x="434.0" y="558.4" font-size="9.6" text-anchor="middle" stroke="#000" stroke-width="0.35">15:1</text><text x="462.2" y="558.4" font-size="9.6" text-anchor="middle" stroke="#000" stroke-width="0.35">45:1</text><polyline points="404.5,541.5 436.3,534.6 462.5,518.9" fill="none" stroke="#ababab" stroke-width="1"/><polyline points="406.0,541.5 437.2,541.5 462.2,536.2" fill="none" stroke="#ababab" stroke-width="1"/><polyline points="402.9,541.5 433.7,540.8 462.2,542.3" fill="none" stroke="#ababab" stroke-width="1"/><polyline points="404.5,541.5 436.8,543.8 462.5,542.5" fill="none" stroke="#ababab" stroke-width="1"/><path d="M404.5 536.7L408.4 541.5L404.5 546.3L400.6 541.5Z" fill="#111" stroke="#000" stroke-width="0.6"/><path d="M436.8 539.0L440.7 543.8L436.8 548.6L432.9 543.8Z" fill="#111" stroke="#000" stroke-width="0.6"/><path d="M462.5 537.7L466.4 542.5L462.5 547.3L458.6 542.5Z" fill="#111" stroke="#000" stroke-width="0.6"/><ellipse cx="404.5" cy="541.5" rx="3.05" ry="3.5" fill="#111"/><ellipse cx="436.3" cy="534.6" rx="3.05" ry="3.5" fill="#111"/><ellipse cx="462.5" cy="518.9" rx="3.05" ry="3.5" fill="#111"/><path d="M402.9 536.7L406.8 541.5L402.9 546.3L399.0 541.5Z" fill="#fff" stroke="#000" stroke-width="1.3"/><path d="M433.7 536.0L437.6 540.8L433.7 545.6L429.8 540.8Z" fill="#fff" stroke="#000" stroke-width="1.3"/><path d="M462.2 537.5L466.1 542.3L462.2 547.1L458.3 542.3Z" fill="#fff" stroke="#000" stroke-width="1.3"/><circle cx="406.0" cy="541.5" r="3.0" fill="#fff" stroke="#000" stroke-width="1.2"/><circle cx="437.2" cy="541.5" r="3.0" fill="#fff" stroke="#000" stroke-width="1.2"/><circle cx="462.2" cy="536.2" r="3.0" fill="#fff" stroke="#000" stroke-width="1.2"/><text x="359.5" y="575.0" font-size="14.0" text-anchor="start" stroke="#000" stroke-width="0.35">E:T ratio</text><text x="0" y="0" font-size="19" font-weight="bold" stroke="#000" stroke-width="0.35" transform="translate(25.5 615.9) scale(1.0 1.15)">C</text><text x="116.6" y="615.7" font-size="14.6" text-anchor="middle" stroke="#000" stroke-width="0.35">NLF</text><text x="265.0" y="616.8" font-size="14.9" text-anchor="middle" stroke="#000" stroke-width="0.35">SY5Y</text><text x="416.6" y="616.3" font-size="14.8" text-anchor="middle" stroke="#000" stroke-width="0.35">CHP-134</text><text x="0" y="0" font-size="14.5" text-anchor="middle" stroke="#000" stroke-width="0.35" transform="translate(49.6 690.6) rotate(-90)">cell count</text><text x="124.4" y="758.7" font-size="12.3" text-anchor="middle" stroke="#000" stroke-width="0.35">HLA-ABC</text><text x="274.4" y="758.7" font-size="12.3" text-anchor="middle" stroke="#000" stroke-width="0.35">HLA-ABC</text><text x="420.1" y="758.7" font-size="12.3" text-anchor="middle" stroke="#000" stroke-width="0.35">HLA-ABC</text><path d="M66.4 736.8L66.9 736.2L67.6 735.4L68.3 734.7L69.0 733.8L70.0 733.7L71.0 732.8L71.5 732.2L72.1 732.2L72.7 731.2L73.5 729.7L73.8 729.6L74.1 729.3L74.4 728.1L74.8 728.7L75.1 726.8L75.5 726.9L75.9 725.3L76.3 723.9L76.6 723.9L77.0 723.8L77.4 722.5L77.7 722.1L78.0 720.0L78.3 719.2L78.7 718.4L79.0 718.6L79.2 718.8L79.5 716.8L79.8 717.1L80.0 714.5L80.3 714.0L80.6 714.3L80.9 713.7L81.2 712.8L81.4 710.4L81.7 710.7L81.9 709.2L82.1 709.7L82.4 708.5L82.6 708.0L82.9 707.5L83.1 707.2L83.4 705.0L83.6 705.6L83.9 702.9L84.1 703.7L84.3 700.8L84.6 701.7L84.8 701.4L85.0 699.7L85.2 698.4L85.5 698.8L85.7 698.0L85.9 696.9L86.1 695.2L86.3 694.8L86.5 692.7L86.7 693.3L86.9 692.0L87.1 692.2L87.3 689.7L87.5 690.1L87.8 688.5L88.0 688.4L88.3 689.2L88.6 687.8L89.0 686.7L89.3 685.1L89.7 683.7L90.0 682.7L90.4 683.3L90.8 683.6L91.1 682.3L91.4 680.2L91.7 681.5L92.0 678.9L92.4 677.5L92.7 677.8L93.0 676.8L93.2 675.0L93.5 676.5L93.7 674.2L94.0 673.8L94.2 672.3L94.7 671.4L95.1 673.4L95.5 672.9L95.8 670.7L95.9 668.6L96.0 668.1L96.1 667.1L96.2 665.8L96.2 666.8L96.3 664.8L96.4 662.7L96.4 662.2L96.5 661.8L96.6 661.1L96.7 660.4L96.7 658.9L96.8 660.4L96.9 658.6L97.0 660.0L97.1 661.6L97.2 661.0L97.3 662.0L97.5 665.6L97.6 665.8L97.8 665.2L98.5 667.2L99.2 666.0L100.0 667.8L101.0 665.3L102.0 665.0L102.7 665.3L103.3 666.7L104.0 668.4L104.2 667.3L104.4 669.3L104.6 669.0L104.8 669.9L105.0 671.4L105.3 671.2L105.5 673.4L105.7 673.5L106.0 674.1L106.2 676.0L106.3 676.4L106.5 675.9L106.7 679.1L106.9 679.4L107.1 679.4L107.3 681.1L107.5 681.9L107.7 680.9L107.9 681.8L108.1 683.8L108.3 684.5L108.5 686.0L108.6 685.5L108.8 686.3L109.0 687.7L109.2 690.1L109.4 688.4L109.5 691.7L109.7 691.5L109.9 691.7L110.0 691.9L110.2 693.6L110.4 694.4L110.5 694.2L110.7 695.9L110.8 698.0L111.0 698.9L111.2 699.0L111.3 698.9L111.5 700.9L111.7 699.6L111.9 702.2L112.0 703.0L112.2 702.4L112.4 703.7L112.6 704.7L112.8 706.4L113.0 706.7L113.1 706.6L113.3 708.9L113.5 708.8L113.7 710.3L113.8 709.9L114.0 710.6L114.2 711.5L114.4 711.9L114.6 714.3L114.7 714.9L114.9 715.0L115.1 716.4L115.3 717.4L115.4 718.9L115.6 717.5L115.8 718.2L116.0 721.0L116.2 722.0L116.5 722.3L116.7 722.7L117.0 724.6L117.2 725.3L117.5 724.0L117.7 726.3L118.0 727.3L118.2 726.9L118.5 728.6L118.9 729.7L119.4 729.9L119.8 730.7L120.2 731.6L120.6 732.6L121.0 733.1L121.5 734.2L121.9 734.8L122.4 735.6L122.7 736.3L123.0 736.8L123.0 736.8L66.4 736.8Z" fill="#7b7b7b" stroke="#444" stroke-width="0.5"/><path d="M78.0 736.8L78.2 736.3L78.5 735.8L78.9 735.1L79.3 734.2L79.7 733.7L80.2 732.7L80.6 732.1L81.0 731.1L81.3 730.5L81.7 729.8L82.0 728.6L82.4 727.5L82.7 727.8L83.0 725.9L83.4 725.7L83.7 725.7L84.0 723.7L84.3 722.8L84.5 722.3L84.8 721.2L85.0 721.4L85.3 719.8L85.5 718.6L85.8 718.8L86.0 717.3L86.3 716.3L86.5 715.1L86.7 715.8L86.9 714.2L87.1 713.8L87.3 712.8L87.5 712.6L87.8 710.3L88.0 710.5L88.2 710.0L88.4 708.2L88.6 707.6L88.8 706.5L89.0 705.7L89.2 706.0L89.4 703.8L89.6 703.9L89.8 701.8L90.0 702.3L90.2 700.2L90.5 700.7L90.7 698.6L90.9 698.0L91.1 697.2L91.3 696.4L91.5 696.5L91.7 695.2L91.9 693.5L92.1 692.9L92.3 692.5L92.5 692.2L92.8 691.3L93.0 690.1L93.2 689.9L93.4 689.3L93.6 688.5L93.8 687.7L94.0 686.8L94.2 686.0L94.4 684.7L94.6 683.8L94.8 682.7L95.0 681.5L95.2 681.4L95.5 679.7L95.7 679.8L95.9 678.2L96.1 676.6L96.3 677.4L96.5 676.0L96.8 674.2L97.0 674.7L97.3 673.8L97.5 673.2L97.8 671.6L98.1 670.4L98.4 669.8L98.7 669.7L99.0 669.3L99.6 668.3L100.2 667.1L100.9 666.4L101.6 667.4L102.2 666.9L102.8 666.3L103.3 664.7L103.8 663.1L104.2 662.5L104.6 662.4L105.0 662.7L105.6 662.3L106.3 661.6L106.9 663.7L107.5 664.3L107.7 664.4L107.9 665.7L108.1 665.7L108.3 666.7L108.5 666.6L108.7 667.6L108.9 670.0L109.1 670.0L109.3 671.6L109.5 671.8L109.7 672.6L109.8 672.8L110.0 675.0L110.2 674.7L110.3 676.5L110.5 676.2L110.7 677.3L110.8 677.8L111.0 679.7L111.2 681.0L111.3 681.4L111.5 682.3L111.7 682.4L111.8 684.5L112.0 683.8L112.1 684.9L112.3 686.3L112.4 687.3L112.6 687.5L112.7 689.0L112.9 689.0L113.0 689.7L113.2 691.2L113.3 692.3L113.5 693.7L113.7 693.8L113.8 695.5L114.0 696.1L114.2 697.3L114.3 697.6L114.5 697.9L114.7 699.1L114.8 700.0L115.0 700.1L115.2 700.8L115.3 701.9L115.5 703.1L115.7 703.0L115.8 704.4L116.0 704.9L116.2 707.2L116.3 707.1L116.5 708.2L116.7 708.3L116.8 709.7L117.0 711.4L117.2 712.0L117.3 712.9L117.5 712.4L117.7 714.5L117.9 715.3L118.0 715.3L118.2 716.1L118.4 718.0L118.6 717.7L118.7 718.4L118.9 719.9L119.1 720.4L119.3 721.1L119.5 721.9L119.7 723.2L119.9 724.1L120.2 724.4L120.4 726.1L120.6 725.8L120.9 726.6L121.1 727.6L121.4 727.9L121.7 729.3L122.0 730.0L122.4 730.6L122.9 731.7L123.4 732.6L123.9 733.5L124.4 734.3L124.9 735.0L125.4 735.7L125.7 736.4L126.0 736.8" fill="none" stroke="#222" stroke-width="0.9"/><path d="M66.4 736.8L66.9 736.2L67.6 735.4L68.3 734.5L69.0 733.9L70.0 733.6L71.0 733.1L71.5 732.6L72.1 732.4L72.7 731.5L73.5 730.8L73.8 730.0L74.1 728.9L74.4 728.8L74.8 728.0L75.1 727.3L75.5 726.0L75.9 726.1L76.3 724.3L76.6 723.7L77.0 722.8L77.4 722.0L77.7 721.1L78.0 721.5L78.3 720.5L78.7 718.4L79.0 718.8L79.2 717.0L79.5 717.4L79.8 716.1L80.0 715.6L80.3 715.2L80.6 714.4L80.9 713.3L81.2 711.6L81.4 710.5L81.7 710.8L81.9 709.9L82.1 709.9L82.4 709.1L82.6 706.9L82.9 706.5L83.1 706.3L83.4 704.9L83.6 705.2L83.9 702.5L84.1 702.5L84.3 702.6L84.6 702.0L84.8 700.3L85.0 699.1L85.2 699.0L85.5 697.6L85.7 697.5L85.9 696.0L86.1 694.9L86.3 695.0L86.5 694.5L86.7 693.2L86.9 692.7L87.1 691.9L87.3 691.0L87.5 689.3L87.8 689.3L88.0 689.5L88.3 688.0L88.6 687.7L89.0 687.2L89.3 684.6L89.7 685.2L90.0 683.9L90.4 682.1L90.8 681.8L91.1 681.6L91.4 680.9L91.7 681.0L92.0 679.3L92.4 679.2L92.7 677.6L93.0 677.8L93.2 677.1L93.5 674.8L93.7 675.4L94.0 673.3L94.2 673.2L94.7 673.5L95.1 672.1L95.5 670.7L95.8 669.4L95.9 670.8L96.0 669.8L96.1 669.2L96.2 667.1L96.2 666.1L96.3 665.9L96.4 663.6L96.5 663.8L96.5 662.0L96.6 661.1L96.7 661.5L96.7 659.7L96.8 660.6L96.9 658.5L97.0 657.5L97.2 656.9L97.5 655.5L98.0 656.3L98.7 654.0L99.4 655.3L100.2 654.1L100.8 653.8L101.4 653.3L102.1 652.6L102.8 651.6L103.4 651.2L103.8 651.2L104.1 649.7L104.5 649.8L104.9 648.6L105.2 646.4L105.6 645.6L105.9 646.4L106.3 645.3L106.6 644.3L107.1 645.1L107.5 645.6L107.9 646.7L108.3 647.3L108.7 649.4L109.1 649.0L109.2 651.4L109.4 651.6L109.5 651.7L109.6 651.8L109.7 652.7L109.9 654.6L110.0 655.4L110.1 655.9L110.2 655.9L110.3 656.8L110.4 658.5L110.5 658.6L110.6 659.9L110.8 660.3L110.9 661.6L111.0 663.1L111.1 664.4L111.2 663.6L111.3 665.0L111.4 665.9L111.5 666.4L111.6 667.6L111.7 667.7L111.9 668.9L112.0 669.9L112.1 671.9L112.2 671.6L112.3 673.3L112.4 674.3L112.5 675.0L112.6 675.3L112.8 675.9L112.9 677.2L113.0 677.7L113.1 678.4L113.2 679.4L113.4 679.5L113.5 681.4L113.6 681.8L113.8 682.0L113.9 683.4L114.0 683.6L114.2 685.3L114.3 686.2L114.4 687.9L114.6 687.1L114.7 688.7L114.8 690.0L115.0 689.7L115.1 691.0L115.2 692.0L115.4 691.9L115.5 693.4L115.6 695.1L115.8 696.0L115.9 696.8L116.0 695.8L116.2 697.9L116.3 698.9L116.4 698.9L116.5 699.6L116.7 701.3L116.8 701.4L116.9 703.4L117.1 703.0L117.2 704.9L117.3 705.4L117.5 705.5L117.6 707.0L117.7 708.1L117.9 708.5L118.0 708.4L118.2 708.9L118.3 710.7L118.5 711.9L118.6 712.5L118.8 712.6L118.9 714.3L119.1 715.2L119.2 715.4L119.4 716.8L119.5 717.6L119.7 718.9L119.9 717.8L120.0 720.4L120.2 720.6L120.4 720.1L120.6 720.8L120.9 722.2L121.3 723.6L121.7 724.4L122.0 724.8L122.4 726.4L122.8 726.5L123.2 727.3L123.6 728.0L124.0 728.9L124.4 728.6L124.9 729.4L125.4 730.6L125.9 731.7L126.4 732.4L126.9 732.8L127.5 733.2L128.0 734.1L128.7 734.8L129.5 735.3L130.2 735.7L130.9 736.1L131.6 736.5L132.0 736.8" fill="none" stroke="#111" stroke-width="1.0"/><path d="M88.0 736.8L88.1 736.5L88.2 736.1L88.4 735.6L88.6 735.1L88.8 734.5L89.0 733.9L89.2 733.3L89.4 732.6L89.7 732.0L89.9 731.3L90.1 730.6L90.4 729.9L90.6 729.3L90.8 728.6L91.0 728.0L91.2 727.4L91.4 726.8L91.6 726.2L91.8 725.6L92.0 725.0L92.2 724.4L92.4 723.8L92.6 723.2L92.8 722.6L93.0 722.0L93.2 721.4L93.4 720.8L93.6 720.2L93.8 719.6L94.0 719.0L94.2 718.4L94.4 717.8L94.5 717.2L94.7 716.6L94.9 716.0L95.1 715.4L95.2 714.9L95.4 714.3L95.6 713.7L95.7 713.1L95.9 712.5L96.0 711.9L96.2 711.3L96.3 710.6L96.5 710.0L96.6 709.4L96.8 708.8L96.9 708.2L97.0 707.6L97.1 706.9L97.2 706.3L97.4 705.7L97.5 705.1L97.6 704.4L97.7 703.8L97.8 703.2L97.9 702.5L98.1 701.9L98.2 701.3L98.3 700.6L98.5 700.0L98.7 699.4L98.8 698.8L99.0 698.2L99.1 697.6L99.3 697.0L99.5 696.4L99.7 695.8L99.9 695.2L100.1 694.6L100.3 694.0L100.4 693.5L100.6 692.9L100.8 692.3L101.0 691.7L101.2 691.1L101.3 690.6L101.5 690.0L101.7 689.4L101.9 688.7L102.0 688.1L102.2 687.5L102.4 686.9L102.6 686.3L102.7 685.7L102.9 685.1L103.1 684.6L103.2 684.0L103.4 683.4L103.6 682.8L103.7 682.2L103.9 681.6L104.0 681.0L104.1 680.4L104.3 679.8L104.4 679.2L104.5 678.6L104.7 678.0L104.8 677.4L104.9 676.8L105.0 676.2L105.1 675.6L105.2 675.0L105.3 674.4L105.5 673.8L105.6 673.2L105.7 672.6L105.8 672.0L105.9 671.4L106.0 670.8L106.1 670.2L106.3 669.5L106.4 668.9L106.5 668.3L106.6 667.6L106.7 667.0L106.8 666.4L106.9 665.8L107.0 665.2L107.1 664.6L107.3 664.1L107.4 663.5L107.5 663.0L107.7 662.3L107.8 661.6L108.0 660.9L108.2 660.3L108.4 659.6L108.6 659.0L108.7 658.4L108.9 657.9L109.1 657.4L109.3 657.0L109.5 656.6L110.0 655.8L110.6 655.4L111.1 655.2L111.7 655.3L112.2 655.5L112.7 655.8L113.2 656.3L113.7 657.0L114.2 657.8L114.4 658.2L114.7 658.7L114.9 659.2L115.1 659.8L115.3 660.4L115.5 661.0L115.8 661.6L116.0 662.3L116.3 662.9L116.5 663.6L116.8 664.2L117.0 664.7L117.3 665.2L117.5 665.7L117.8 666.2L118.1 666.7L118.3 667.2L118.6 667.8L118.9 668.3L119.2 668.8L119.5 669.4L119.8 670.0L120.0 670.6L120.3 671.2L120.6 671.8L120.8 672.3L121.0 672.8L121.2 673.3L121.5 673.9L121.7 674.4L121.9 675.0L122.1 675.6L122.3 676.1L122.5 676.7L122.7 677.3L122.9 677.9L123.2 678.5L123.4 679.1L123.6 679.6L123.8 680.2L124.0 680.8L124.2 681.4L124.4 682.0L124.6 682.6L124.8 683.2L125.0 683.8L125.2 684.4L125.4 685.0L125.6 685.6L125.8 686.2L126.0 686.8L126.2 687.4L126.4 688.0L126.6 688.6L126.8 689.2L127.0 689.8L127.1 690.4L127.3 691.0L127.5 691.6L127.7 692.1L127.9 692.7L128.1 693.3L128.3 693.9L128.5 694.5L128.7 695.1L128.9 695.7L129.1 696.3L129.4 696.8L129.6 697.4L129.8 698.0L130.0 698.5L130.2 699.1L130.4 699.7L130.6 700.2L130.8 700.8L131.0 701.4L131.2 702.0L131.4 702.6L131.6 703.2L131.8 703.7L132.0 704.3L132.2 705.0L132.4 705.6L132.6 706.2L132.8 706.8L133.0 707.4L133.2 708.0L133.4 708.6L133.6 709.2L133.8 709.8L134.0 710.3L134.2 710.9L134.4 711.5L134.6 712.0L134.8 712.6L135.1 713.3L135.3 713.9L135.6 714.5L135.8 715.0L136.1 715.6L136.3 716.2L136.5 716.7L136.8 717.3L137.0 717.8L137.3 718.4L137.5 718.9L137.8 719.5L138.0 720.0L138.3 720.6L138.5 721.2L138.8 721.8L139.0 722.4L139.3 723.0L139.5 723.5L139.8 724.1L140.0 724.7L140.3 725.2L140.5 725.8L140.8 726.3L141.0 726.8L141.3 727.3L141.6 727.9L141.9 728.5L142.3 729.0L142.6 729.6L142.9 730.1L143.2 730.6L143.5 731.1L143.8 731.6L144.2 732.0L144.5 732.5L144.9 733.0L145.3 733.6L145.8 734.2L146.2 734.7L146.7 735.2L147.1 735.7L147.5 736.2L147.8 736.5L148.0 736.8" fill="none" stroke="#222" stroke-width="2.7" stroke-dasharray="3 2.3"/><path d="M60.1 643.8V736.8H195.2" fill="none" stroke="#000" stroke-width="2.4"/><path d="M59.1 648.5h-2.2M59.1 666.1h-2.2M59.1 683.7h-2.2M59.1 701.3h-2.2M59.1 718.9h-2.2" stroke="#555" stroke-width="0.8" fill="none"/><path d="M62.1 739.2H193.2" stroke="#aaa" stroke-width="1.3" stroke-dasharray="1.2 1.8" fill="none"/><path d="M211.5 735.9L212.0 735.5L212.6 735.0L213.4 734.4L214.2 733.6L215.0 732.8L215.7 732.2L216.3 731.8L217.0 731.1L217.7 730.7L218.4 730.6L219.0 730.0L219.7 729.8L220.3 728.1L220.9 727.2L221.4 726.5L221.9 726.3L222.3 724.9L222.5 725.5L222.7 724.3L222.9 724.5L223.1 721.9L223.4 722.6L223.8 720.1L224.2 720.3L224.6 720.0L225.0 718.1L225.5 717.5L226.0 715.4L226.1 716.5L226.3 715.5L226.4 715.1L226.6 712.7L226.7 711.9L226.9 713.0L227.0 710.9L227.1 711.8L227.3 710.0L227.5 707.8L227.6 708.4L227.8 707.4L228.0 705.8L228.2 706.2L228.3 705.3L228.5 704.2L228.6 703.5L228.8 702.4L229.0 701.2L229.2 699.9L229.3 699.5L229.5 698.3L229.7 697.3L229.9 697.5L230.1 697.0L230.3 694.3L230.4 693.3L230.6 693.8L230.8 692.8L231.0 690.8L231.2 691.8L231.3 689.4L231.5 690.7L231.7 689.3L231.8 689.2L232.0 687.4L232.2 686.7L232.3 685.5L232.5 685.8L232.7 684.7L232.9 681.9L233.0 682.1L233.2 681.9L233.4 681.7L233.5 680.0L233.7 678.5L233.9 678.9L234.0 676.4L234.2 675.3L234.3 676.6L234.5 674.0L234.6 673.2L234.8 672.5L234.9 672.8L235.1 671.3L235.2 670.9L235.4 670.6L235.5 667.6L235.7 666.7L235.8 667.7L236.0 666.8L236.1 666.5L236.3 663.3L236.4 664.4L236.5 663.9L236.7 663.4L236.8 661.0L236.9 659.5L237.1 660.3L237.2 660.3L237.5 657.4L237.7 658.3L238.0 655.5L238.2 657.0L238.4 655.7L238.7 655.5L238.9 653.7L239.1 652.2L239.3 653.4L239.5 651.3L239.7 651.2L239.9 650.7L240.0 647.8L240.1 649.0L240.3 646.7L240.4 645.7L240.6 646.3L240.8 644.2L241.0 644.4L241.5 643.8L242.2 644.3L242.9 644.9L243.5 645.0L244.2 646.0L244.5 647.0L244.8 648.9L245.1 649.8L245.4 651.0L245.8 651.1L246.1 651.5L246.4 652.9L246.6 652.4L246.9 653.9L247.2 654.3L247.4 656.2L247.7 657.6L247.9 657.6L248.1 658.0L248.3 659.9L248.5 658.3L248.7 660.6L248.9 662.2L249.1 662.4L249.3 662.4L249.5 664.2L249.6 664.3L249.8 666.6L249.9 664.9L250.0 665.9L250.2 667.4L250.3 667.6L250.4 669.2L250.6 671.0L250.7 670.4L250.8 672.8L251.0 671.6L251.1 673.4L251.3 675.0L251.4 676.2L251.5 676.2L251.7 676.9L251.8 678.2L251.9 680.1L252.1 679.7L252.2 680.0L252.3 681.1L252.5 681.5L252.6 684.0L252.8 682.9L252.9 684.4L253.0 685.9L253.2 686.6L253.3 687.1L253.4 688.9L253.6 688.2L253.7 690.0L253.9 691.2L254.0 690.0L254.2 691.5L254.4 693.2L254.6 692.6L254.7 693.7L254.9 695.2L255.1 697.0L255.3 697.8L255.5 696.4L255.7 697.4L255.9 699.4L256.1 699.1L256.3 699.9L256.5 702.1L256.8 702.4L257.0 704.0L257.2 702.8L257.4 705.9L257.7 706.8L257.9 706.5L258.2 707.4L258.5 707.1L258.7 708.8L259.0 710.4L259.3 710.0L259.5 710.2L259.8 711.8L260.1 712.1L260.4 712.9L260.7 714.0L261.0 713.8L261.4 716.4L261.8 717.5L262.2 718.0L262.6 719.0L263.0 720.0L263.5 720.2L263.9 719.9L264.4 720.8L264.8 720.1L265.2 721.6L265.7 722.3L266.2 722.1L266.7 722.8L267.3 724.6L267.8 725.8L268.4 726.5L268.9 727.3L269.4 726.5L270.0 728.3L270.5 728.3L271.0 728.7L271.7 728.8L272.4 730.5L273.1 730.6L273.7 730.7L274.4 731.5L275.1 731.8L275.7 732.5L276.5 733.2L277.3 733.7L278.1 734.5L278.9 735.1L279.5 735.5L280.0 735.9L280.0 735.9L211.5 735.9Z" fill="#7b7b7b" stroke="#444" stroke-width="0.5"/><path d="M212.0 735.9L212.4 735.5L213.0 734.9L213.8 734.0L214.5 733.5L215.3 732.7L216.0 732.1L216.7 731.8L217.4 731.0L218.0 731.0L218.7 730.5L219.4 729.4L220.0 729.2L220.3 728.6L220.7 728.3L221.0 727.7L221.3 726.9L221.6 726.1L221.9 725.9L222.2 723.7L222.5 722.8L222.8 722.9L223.1 721.9L223.5 721.4L223.7 720.3L223.9 719.3L224.1 719.3L224.4 717.1L224.6 716.6L224.8 717.3L225.1 716.0L225.3 715.0L225.5 714.0L225.8 712.2L226.0 712.0L226.3 710.9L226.5 710.1L226.7 709.7L227.0 708.1L227.2 708.8L227.4 706.6L227.6 705.5L227.8 705.8L228.0 704.5L228.2 703.6L228.4 703.7L228.6 702.7L228.8 702.3L229.0 701.7L229.2 699.5L229.3 699.3L229.5 698.1L229.7 697.1L229.8 696.3L230.0 695.7L230.2 695.1L230.3 694.7L230.5 694.5L230.7 693.5L230.8 691.0L231.0 690.5L231.2 691.1L231.3 690.3L231.5 688.8L231.6 687.4L231.8 686.3L231.9 685.5L232.1 686.5L232.3 685.4L232.4 684.2L232.6 683.6L232.7 682.2L232.9 681.7L233.1 680.4L233.2 680.6L233.4 679.5L233.5 678.7L233.7 676.9L233.8 675.9L234.0 675.0L234.1 675.8L234.3 675.3L234.4 673.9L234.6 673.2L234.7 671.7L234.9 671.0L235.0 669.6L235.2 670.0L235.3 667.4L235.5 668.1L235.6 667.4L235.7 665.2L235.9 665.2L236.0 664.0L236.2 663.9L236.3 661.8L236.5 661.8L236.6 661.0L236.7 660.0L236.9 659.3L237.0 658.5L237.3 657.9L237.5 657.1L237.8 656.2L238.1 654.2L238.3 655.2L238.6 654.0L238.8 652.8L239.1 653.2L239.3 652.6L239.5 650.2L239.7 649.9L239.9 648.3L240.0 648.4L240.2 647.0L240.3 645.3L240.5 645.3L240.7 645.2L241.0 644.2L241.6 643.6L242.3 643.5L243.0 643.8L243.8 645.3L244.5 647.2L244.9 646.8L245.3 646.9L245.7 647.5L246.1 650.0L246.5 650.8L246.9 649.7L247.3 651.9L247.6 651.3L248.0 653.7L248.3 653.6L248.6 654.3L248.9 655.7L249.2 655.9L249.5 656.5L249.8 657.0L250.1 658.5L250.4 659.4L250.7 660.1L251.0 660.1L251.1 661.6L251.3 663.2L251.4 662.8L251.6 662.8L251.7 664.9L251.9 665.8L252.0 666.1L252.1 667.1L252.3 666.9L252.4 669.5L252.6 669.5L252.7 669.5L252.9 670.3L253.0 673.1L253.1 672.5L253.3 674.9L253.4 674.8L253.6 676.1L253.7 675.6L253.9 677.8L254.0 678.2L254.2 679.2L254.4 679.5L254.5 680.2L254.7 682.1L254.9 682.3L255.1 683.7L255.2 684.5L255.4 684.7L255.6 684.8L255.8 686.1L255.9 686.8L256.1 687.5L256.3 689.6L256.5 689.5L256.6 690.4L256.8 690.2L257.0 691.9L257.2 692.5L257.4 694.1L257.6 695.0L257.8 695.7L258.0 696.7L258.2 698.0L258.3 697.6L258.5 697.9L258.7 699.0L258.9 699.8L259.1 701.7L259.3 701.1L259.5 702.8L259.8 704.0L260.0 704.1L260.3 705.2L260.5 704.7L260.8 707.1L261.1 708.1L261.4 707.1L261.7 708.0L262.0 709.6L262.3 709.7L262.6 710.1L263.0 710.9L263.3 712.7L263.6 713.2L264.0 714.4L264.3 714.1L264.6 715.7L264.9 716.1L265.2 716.9L265.5 718.5L265.9 718.4L266.2 719.1L266.5 719.5L266.9 720.9L267.2 722.2L267.6 722.6L267.9 723.7L268.2 723.2L268.6 725.1L268.9 726.0L269.2 725.9L269.5 726.7L270.2 727.3L270.8 728.3L271.5 728.8L272.1 729.5L272.7 728.9L273.3 729.9L274.0 730.0L274.7 730.6L275.4 730.9L276.1 731.6L276.8 732.0L277.6 732.4L278.3 732.9L279.0 733.5L279.9 733.9L280.9 734.5L281.8 734.9L282.7 735.3L283.5 735.6L284.0 735.9" fill="none" stroke="#111" stroke-width="1.0"/><path d="M242.0 735.9L242.3 735.8L242.8 735.7L243.3 735.6L243.9 735.5L244.5 735.4L245.2 735.2L245.9 735.1L246.6 734.9L247.3 734.7L248.0 734.5L248.5 734.3L249.1 734.2L249.7 734.0L250.3 733.8L250.9 733.7L251.5 733.5L252.2 733.3L252.8 733.1L253.4 732.8L254.0 732.5L254.6 732.2L255.2 731.9L255.7 731.5L256.1 731.2L256.6 730.8L257.0 730.4L257.4 729.9L257.8 729.4L258.2 729.0L258.6 728.4L259.0 727.9L259.3 727.4L259.7 726.9L260.1 726.4L260.4 725.9L260.8 725.4L261.1 724.9L261.5 724.4L261.8 724.0L262.2 723.5L262.6 723.0L263.0 722.5L263.4 722.1L263.7 721.7L264.1 721.3L264.4 720.9L264.8 720.4L265.1 719.9L265.5 719.3L265.8 718.7L266.2 718.0L266.4 717.6L266.6 717.1L266.9 716.6L267.1 716.1L267.3 715.5L267.5 715.0L267.7 714.4L268.0 713.8L268.2 713.3L268.4 712.6L268.6 712.0L268.9 711.4L269.1 710.8L269.3 710.2L269.5 709.5L269.8 708.9L270.0 708.2L270.2 707.6L270.4 707.0L270.6 706.3L270.8 705.7L271.0 705.2L271.1 704.6L271.3 704.0L271.5 703.5L271.7 702.9L271.8 702.3L272.0 701.7L272.2 701.1L272.3 700.5L272.5 699.9L272.7 699.3L272.8 698.8L273.0 698.2L273.2 697.6L273.3 697.0L273.5 696.4L273.6 695.8L273.8 695.2L273.9 694.6L274.1 694.0L274.2 693.5L274.3 692.9L274.5 692.3L274.6 691.8L274.8 691.2L274.9 690.5L275.0 689.9L275.2 689.3L275.3 688.7L275.4 688.1L275.5 687.5L275.6 686.9L275.7 686.3L275.9 685.7L276.0 685.2L276.1 684.6L276.2 684.0L276.3 683.4L276.4 682.7L276.5 682.1L276.6 681.5L276.7 680.8L276.9 680.2L277.0 679.5L277.1 678.9L277.2 678.4L277.3 677.8L277.4 677.2L277.6 676.6L277.7 676.0L277.8 675.4L277.9 674.7L278.0 674.1L278.2 673.5L278.3 672.8L278.4 672.2L278.5 671.5L278.6 670.9L278.8 670.3L278.9 669.6L279.0 669.0L279.1 668.4L279.3 667.7L279.4 667.1L279.5 666.5L279.6 665.9L279.8 665.3L279.9 664.8L280.0 664.2L280.1 663.5L280.3 662.9L280.4 662.2L280.6 661.6L280.7 660.9L280.9 660.3L281.0 659.7L281.1 659.0L281.3 658.4L281.4 657.8L281.6 657.2L281.7 656.6L281.8 656.0L282.0 655.5L282.1 654.9L282.3 654.4L282.4 653.8L282.6 653.3L282.7 652.8L282.9 652.3L283.0 651.8L283.2 651.0L283.5 650.2L283.7 649.3L283.9 648.5L284.2 647.6L284.4 646.8L284.6 646.1L284.9 645.5L285.1 644.9L285.4 644.5L285.6 644.2L285.9 644.1L286.2 644.2L286.4 644.4L286.6 644.6L286.8 644.9L287.0 645.2L287.2 645.7L287.5 646.1L287.7 646.7L287.9 647.2L288.2 647.8L288.4 648.5L288.6 649.2L288.9 649.9L289.1 650.6L289.3 651.3L289.6 652.1L289.8 652.8L290.0 653.6L290.2 654.3L290.4 655.1L290.6 655.8L290.8 656.5L290.9 657.0L291.1 657.6L291.2 658.1L291.3 658.7L291.4 659.3L291.5 659.8L291.7 660.4L291.8 661.0L291.9 661.6L292.0 662.3L292.1 662.9L292.2 663.5L292.3 664.1L292.4 664.8L292.5 665.4L292.6 666.0L292.7 666.7L292.8 667.3L292.9 667.9L293.0 668.5L293.1 669.2L293.2 669.8L293.3 670.4L293.4 671.0L293.5 671.6L293.6 672.2L293.7 672.8L293.8 673.4L293.9 674.0L294.0 674.6L294.2 675.3L294.3 675.9L294.4 676.5L294.5 677.1L294.6 677.7L294.7 678.3L294.9 678.9L295.0 679.5L295.1 680.1L295.2 680.7L295.3 681.3L295.5 681.9L295.6 682.5L295.7 683.1L295.8 683.6L295.9 684.2L296.1 684.8L296.2 685.4L296.3 686.0L296.4 686.5L296.5 687.1L296.7 687.7L296.8 688.2L296.9 688.8L297.0 689.4L297.2 690.1L297.3 690.7L297.4 691.3L297.5 691.9L297.7 692.5L297.8 693.1L297.9 693.7L298.0 694.3L298.2 694.9L298.3 695.5L298.4 696.1L298.5 696.7L298.7 697.3L298.8 697.9L298.9 698.4L299.1 699.0L299.2 699.6L299.4 700.2L299.5 700.8L299.7 701.4L299.8 702.0L300.0 702.6L300.2 703.2L300.3 703.8L300.5 704.4L300.7 704.9L300.8 705.5L301.0 706.1L301.2 706.7L301.4 707.3L301.5 707.9L301.7 708.5L301.9 709.1L302.1 709.7L302.3 710.3L302.5 710.9L302.7 711.5L302.9 712.1L303.1 712.7L303.3 713.2L303.5 713.8L303.7 714.4L303.9 714.9L304.2 715.5L304.4 716.0L304.6 716.5L304.9 717.1L305.2 717.7L305.5 718.3L305.8 718.9L306.1 719.5L306.4 720.1L306.7 720.7L307.0 721.3L307.3 721.9L307.7 722.4L308.0 723.0L308.3 723.5L308.6 724.0L309.0 724.5L309.3 725.0L309.6 725.5L309.9 725.9L310.2 726.4L310.5 726.8L310.8 727.2L311.3 727.9L311.8 728.4L312.3 729.0L312.8 729.4L313.3 729.8L313.8 730.2L314.2 730.6L314.7 730.9L315.1 731.3L315.6 731.6L316.0 732.0L316.5 732.5L317.0 733.0L317.6 733.5L318.1 734.0L318.6 734.5L319.0 734.9L319.4 735.3L319.7 735.6L320.0 735.9" fill="none" stroke="#222" stroke-width="2.7" stroke-dasharray="3 2.3"/><path d="M209.3 643.0V735.9H336.2" fill="none" stroke="#000" stroke-width="2.4"/><path d="M208.3 647.7h-2.2M208.3 665.3h-2.2M208.3 682.9h-2.2M208.3 700.5h-2.2M208.3 718.1h-2.2" stroke="#555" stroke-width="0.8" fill="none"/><path d="M211.3 738.3H334.2" stroke="#aaa" stroke-width="1.3" stroke-dasharray="1.2 1.8" fill="none"/><path d="M367.9 736.0L368.3 735.6L368.8 734.9L369.4 734.2L370.0 733.4L370.7 732.7L371.4 732.1L372.0 731.7L372.7 730.7L373.3 731.1L374.0 730.1L374.7 729.7L375.4 728.8L376.2 728.5L376.6 728.2L377.0 726.9L377.4 727.2L377.8 726.3L378.2 725.2L378.7 724.5L379.1 723.2L379.6 724.2L380.0 724.1L380.4 722.6L380.9 720.5L381.3 720.0L381.6 720.3L382.0 717.7L382.3 718.3L382.5 717.8L382.8 716.7L383.0 715.1L383.3 714.1L383.5 713.1L383.7 714.6L383.9 713.6L384.1 711.7L384.3 710.9L384.5 710.6L384.7 709.5L384.9 708.1L385.2 708.2L385.4 706.7L385.6 706.8L385.8 705.5L386.0 704.0L386.2 703.8L386.4 703.2L386.6 702.3L386.8 702.2L387.0 701.0L387.2 699.6L387.4 700.2L387.7 697.2L387.9 697.3L388.1 697.3L388.3 694.8L388.5 693.9L388.7 695.3L388.9 692.8L389.1 692.1L389.2 692.3L389.4 691.1L389.6 689.3L389.8 690.3L389.9 687.6L390.0 686.4L390.2 686.4L390.3 685.5L390.5 684.8L390.6 684.7L390.7 683.9L390.9 683.0L391.0 682.9L391.1 680.5L391.2 679.9L391.4 679.1L391.5 680.0L391.6 677.1L391.7 676.6L391.9 677.5L392.0 674.3L392.1 675.6L392.2 675.2L392.4 673.3L392.5 672.0L392.7 670.5L392.8 671.1L393.0 670.9L393.2 668.3L393.4 667.4L393.5 666.8L393.7 667.1L393.9 665.1L394.1 665.5L394.2 664.1L394.4 664.5L394.6 662.5L394.8 662.5L394.9 661.5L395.1 660.4L395.2 659.6L395.4 659.7L395.7 659.1L396.0 657.8L396.4 655.7L396.7 655.3L397.0 654.2L397.2 652.9L397.5 653.6L397.7 652.4L398.2 650.2L398.8 652.4L399.2 652.2L399.6 653.5L400.1 653.0L400.7 652.9L401.2 654.9L401.4 656.4L401.6 656.5L401.9 656.4L402.1 657.2L402.4 658.1L402.6 658.2L402.8 661.4L403.1 660.5L403.3 663.2L403.5 662.3L403.8 665.2L404.0 665.9L404.1 664.5L404.3 667.5L404.4 667.6L404.5 668.4L404.7 668.1L404.8 669.2L404.9 669.8L405.0 670.0L405.2 671.5L405.3 671.7L405.4 674.0L405.5 673.9L405.7 676.4L405.8 677.3L405.9 676.3L406.1 676.8L406.2 679.0L406.3 679.4L406.5 680.8L406.7 680.2L406.8 682.0L407.0 682.2L407.1 684.8L407.3 684.7L407.5 685.0L407.6 685.9L407.8 688.1L408.0 687.7L408.2 688.8L408.3 689.9L408.5 690.2L408.7 690.5L408.9 691.2L409.1 692.4L409.2 693.8L409.4 693.4L409.6 694.4L409.8 695.0L410.0 695.9L410.2 697.1L410.4 697.1L410.6 700.1L410.8 700.9L411.0 701.8L411.2 701.6L411.4 702.0L411.6 702.4L411.8 702.9L412.0 705.0L412.2 705.1L412.5 707.4L412.7 707.0L412.9 709.2L413.1 708.5L413.3 710.0L413.5 709.2L413.7 710.9L414.0 710.8L414.2 712.7L414.5 713.5L414.7 714.9L415.0 715.3L415.2 714.9L415.5 716.2L415.7 718.8L416.0 718.2L416.2 718.7L416.5 720.4L416.7 720.2L417.0 721.5L417.2 721.8L417.5 722.8L417.9 723.2L418.3 724.2L418.6 725.4L419.0 727.1L419.4 726.8L419.8 728.4L420.2 728.6L420.5 728.9L420.9 729.3L421.3 730.9L421.8 731.1L422.4 731.8L422.9 732.8L423.5 733.8L424.0 734.3L424.5 735.0L424.9 735.6L425.2 736.0L425.2 736.0L367.9 736.0Z" fill="#7b7b7b" stroke="#444" stroke-width="0.5"/><path d="M370.0 736.0L370.4 735.6L370.9 735.1L371.5 734.4L372.2 733.9L373.0 732.9L373.5 732.7L374.1 731.9L374.7 731.5L375.4 731.1L376.0 729.9L376.7 730.0L377.4 729.0L378.0 727.7L378.4 726.9L378.8 726.7L379.2 726.6L379.6 726.1L380.0 723.8L380.4 723.5L380.8 723.9L381.2 721.8L381.6 721.9L381.9 720.8L382.3 720.1L382.7 719.2L383.0 717.2L383.3 718.2L383.5 717.1L383.8 716.5L384.1 715.4L384.3 715.0L384.5 713.5L384.8 711.8L385.0 711.4L385.2 710.6L385.4 711.2L385.6 708.8L385.9 707.6L386.1 708.5L386.3 707.5L386.5 706.2L386.7 705.0L386.9 703.8L387.1 703.7L387.3 703.4L387.4 702.7L387.6 700.4L387.8 700.4L388.0 698.6L388.2 699.6L388.3 698.4L388.5 696.1L388.7 697.1L388.8 694.7L389.0 694.8L389.2 693.4L389.3 692.0L389.5 692.3L389.7 691.7L389.8 689.7L390.0 690.4L390.1 688.7L390.3 686.9L390.4 686.4L390.6 685.2L390.7 686.3L390.9 684.3L391.0 683.1L391.1 681.9L391.3 682.2L391.4 680.6L391.6 680.2L391.7 679.5L391.9 678.3L392.0 678.3L392.2 677.2L392.3 676.0L392.5 676.4L392.6 674.6L392.8 674.0L392.9 672.2L393.1 671.9L393.2 672.1L393.4 671.4L393.6 669.0L393.7 669.6L393.9 667.7L394.0 667.7L394.2 666.4L394.3 666.4L394.5 665.1L394.7 663.2L394.9 664.0L395.1 661.8L395.3 661.9L395.5 660.7L395.7 659.5L395.9 658.0L396.1 659.0L396.3 656.6L396.5 656.7L396.8 656.0L397.0 655.5L397.3 654.4L397.6 653.9L397.9 652.6L398.3 650.9L398.6 650.3L398.9 649.8L399.3 649.7L399.6 649.1L399.9 647.8L400.2 646.7L400.9 646.7L401.5 645.2L402.1 645.8L402.7 645.3L403.6 643.4L404.6 644.0L405.4 643.7L405.6 644.3L405.8 644.0L405.9 644.5L406.0 646.6L406.1 646.3L406.3 648.3L406.5 649.4L406.6 650.5L406.7 651.2L406.8 652.3L406.9 651.2L407.0 653.1L407.1 653.8L407.2 654.1L407.3 655.6L407.4 655.4L407.5 657.7L407.6 657.6L407.7 658.1L407.8 659.6L407.9 659.8L408.1 661.2L408.2 662.7L408.3 663.9L408.4 664.4L408.6 665.4L408.7 666.4L408.8 666.9L408.9 666.9L409.0 669.1L409.1 668.7L409.2 669.8L409.3 669.9L409.4 670.9L409.5 672.3L409.6 673.0L409.8 674.4L409.9 674.0L410.0 676.0L410.1 676.1L410.2 677.0L410.3 678.1L410.4 679.8L410.6 679.5L410.7 681.2L410.8 681.2L410.9 682.0L411.0 683.2L411.1 684.9L411.2 684.3L411.4 685.5L411.5 687.5L411.6 687.0L411.7 688.0L411.9 688.4L412.0 689.1L412.1 690.5L412.3 690.9L412.4 692.9L412.6 692.9L412.7 694.8L412.9 694.4L413.0 694.8L413.2 695.9L413.3 697.0L413.5 697.0L413.6 698.0L413.8 700.0L413.9 699.4L414.1 701.7L414.3 701.7L414.4 702.5L414.6 702.6L414.8 704.3L415.0 704.5L415.2 705.0L415.4 707.5L415.6 708.3L415.8 709.0L416.0 708.5L416.2 710.3L416.4 710.6L416.6 712.6L416.8 712.9L417.0 712.6L417.2 714.4L417.5 714.7L417.7 715.4L417.9 717.0L418.1 716.9L418.3 718.0L418.5 718.4L418.8 720.4L419.1 721.3L419.5 720.9L419.8 721.7L420.1 723.7L420.4 724.7L420.7 724.3L421.0 725.2L421.3 726.0L421.7 726.7L422.0 728.0L422.3 728.3L422.7 729.6L423.1 730.5L423.6 730.8L424.0 731.9L424.5 733.0L424.9 733.7L425.3 734.5L425.7 735.0L426.0 735.6L426.2 736.0" fill="none" stroke="#111" stroke-width="1.0"/><path d="M386.7 736.0L386.9 735.7L387.0 735.3L387.3 734.9L387.5 734.5L387.7 734.0L388.0 733.5L388.3 732.9L388.6 732.3L388.9 731.7L389.2 731.1L389.6 730.5L389.9 729.9L390.2 729.2L390.6 728.6L390.9 727.9L391.2 727.3L391.6 726.7L391.9 726.1L392.2 725.5L392.5 725.0L392.8 724.5L393.1 723.9L393.4 723.4L393.7 722.9L394.0 722.3L394.3 721.8L394.6 721.3L394.9 720.8L395.3 720.3L395.6 719.8L395.9 719.3L396.2 718.8L396.5 718.2L396.8 717.7L397.1 717.2L397.4 716.7L397.7 716.1L398.0 715.6L398.3 715.0L398.6 714.5L398.9 713.9L399.1 713.4L399.4 712.8L399.7 712.3L400.0 711.7L400.2 711.1L400.5 710.5L400.8 709.9L401.1 709.3L401.4 708.8L401.6 708.2L401.9 707.6L402.2 707.0L402.4 706.5L402.7 705.9L403.0 705.4L403.2 704.9L403.5 704.4L403.7 703.9L404.0 703.4L404.3 702.8L404.7 702.2L405.0 701.6L405.4 701.0L405.7 700.5L406.0 699.9L406.4 699.4L406.7 698.9L407.0 698.4L407.3 698.0L407.6 697.5L407.9 697.0L408.2 696.6L408.5 696.1L408.8 695.7L409.2 695.1L409.6 694.5L409.9 694.0L410.2 693.4L410.6 692.9L410.9 692.4L411.3 691.9L411.6 691.4L411.9 690.9L412.3 690.4L412.7 690.0L413.1 689.5L413.6 689.1L414.1 688.6L414.6 688.2L415.0 687.8L415.5 687.4L416.0 687.1L416.5 686.7L417.0 686.3L417.5 686.0L418.0 685.6L418.6 685.2L419.1 684.7L419.7 684.3L420.2 683.9L420.8 683.5L421.3 683.3L421.8 683.2L422.3 683.2L422.7 683.3L423.1 683.6L423.5 683.9L423.9 684.3L424.3 684.7L424.6 685.2L425.0 685.8L425.4 686.5L425.8 687.2L426.2 688.0L426.4 688.4L426.6 688.9L426.9 689.3L427.1 689.8L427.3 690.4L427.6 690.9L427.8 691.4L428.1 692.0L428.3 692.6L428.5 693.2L428.8 693.8L429.0 694.4L429.3 695.1L429.5 695.7L429.8 696.3L430.0 697.0L430.3 697.6L430.5 698.2L430.8 698.9L431.0 699.5L431.2 700.1L431.4 700.6L431.6 701.2L431.8 701.8L432.0 702.4L432.3 703.0L432.5 703.6L432.7 704.2L432.9 704.8L433.1 705.4L433.3 706.1L433.5 706.7L433.7 707.3L433.9 707.9L434.1 708.5L434.3 709.1L434.5 709.7L434.8 710.3L435.0 710.9L435.2 711.4L435.4 712.0L435.6 712.5L435.8 713.0L436.1 713.7L436.4 714.3L436.6 715.0L436.9 715.6L437.2 716.2L437.5 716.8L437.8 717.4L438.1 717.9L438.3 718.5L438.6 719.0L438.9 719.6L439.2 720.1L439.5 720.6L439.8 721.1L440.0 721.6L440.3 722.1L440.6 722.6L441.0 723.2L441.3 723.8L441.7 724.3L442.0 724.9L442.4 725.4L442.8 725.9L443.1 726.4L443.5 726.9L443.8 727.3L444.2 727.8L444.6 728.3L445.0 728.8L445.4 729.3L445.8 729.8L446.2 730.3L446.7 730.9L447.2 731.4L447.6 732.0L448.1 732.5L448.6 733.1L449.1 733.6L449.5 734.1L449.9 734.6L450.3 735.0L450.7 735.4L451.0 735.7L451.2 736.0" fill="none" stroke="#444" stroke-width="2.7" stroke-dasharray="3 2.3"/><path d="M357.4 642.8V736.0H493.3" fill="none" stroke="#000" stroke-width="2.5"/><path d="M356.4 647.5h-2.2M356.4 665.1h-2.2M356.4 682.7h-2.2M356.4 700.3h-2.2M356.4 717.9h-2.2" stroke="#555" stroke-width="0.8" fill="none"/><path d="M359.4 738.4H491.3" stroke="#aaa" stroke-width="1.3" stroke-dasharray="1.2 1.8" fill="none"/></svg>
</body></html>
